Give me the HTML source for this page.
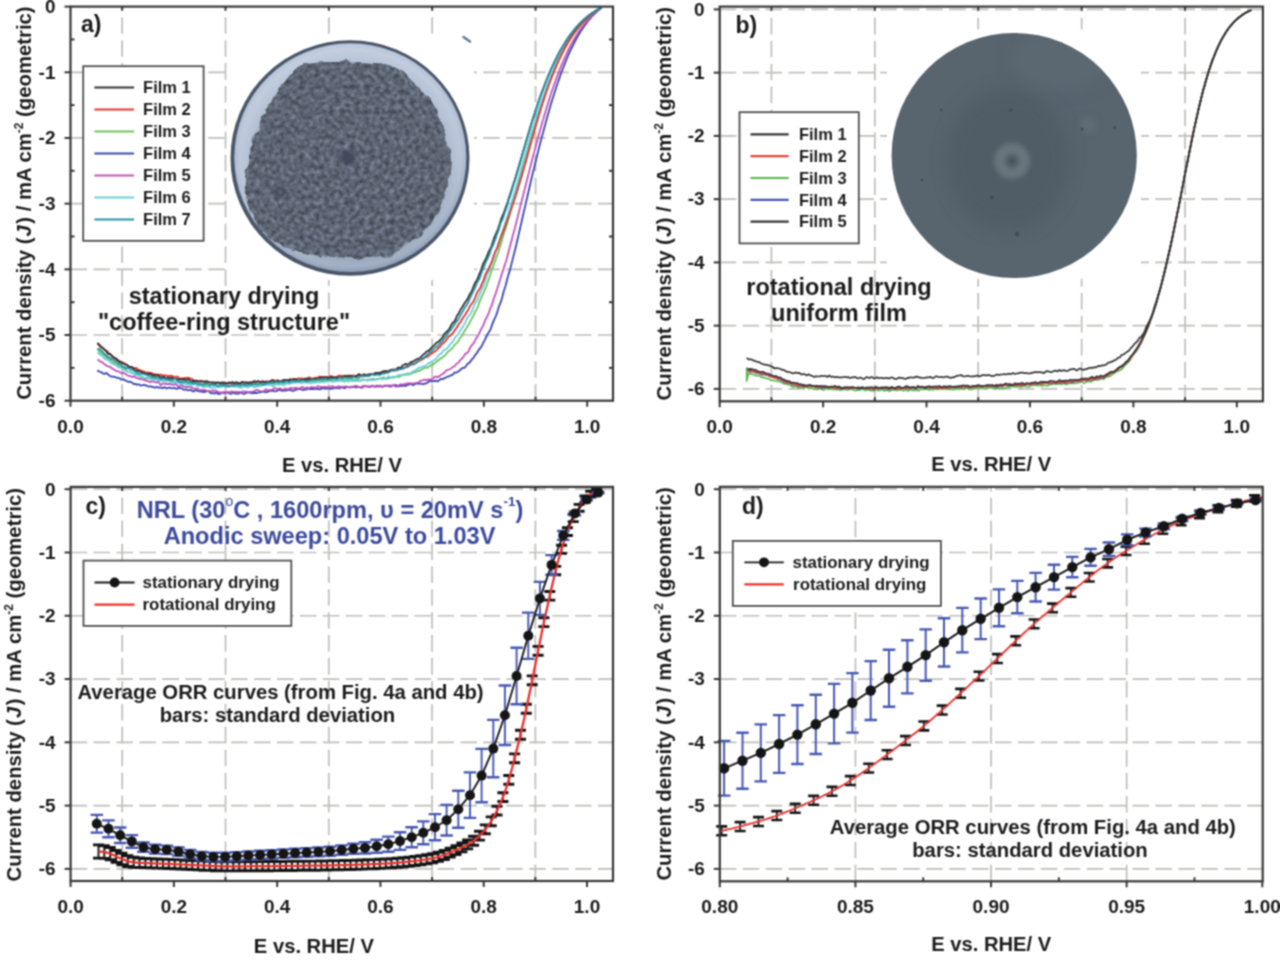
<!DOCTYPE html><html><head><meta charset="utf-8"><style>html,body{margin:0;padding:0;background:#fff;overflow:hidden;width:1280px;height:960px;}svg{display:block;}</style></head><body>
<svg width="1280" height="960" viewBox="0 0 1280 960" font-family='"Liberation Sans", sans-serif'>
<defs>
<filter id="texA" x="-5%" y="-5%" width="110%" height="110%" color-interpolation-filters="sRGB">
 <feTurbulence type="fractalNoise" baseFrequency="0.09" numOctaves="2" seed="3" result="t"/>
 <feDisplacementMap in="SourceGraphic" in2="t" scale="7" xChannelSelector="R" yChannelSelector="G" result="d"/>
 <feTurbulence type="fractalNoise" baseFrequency="0.2" numOctaves="2" seed="7" result="n"/>
 <feColorMatrix in="n" type="matrix" values="0.5 0 0 0 0.25  0.5 0 0 0 0.25  0.5 0 0 0 0.25  0 0 0 0 1" result="g"/>
 <feComposite in="g" in2="d" operator="in" result="gi"/>
 <feBlend in="gi" in2="d" mode="overlay"/>
</filter>
<filter id="blur1" x="-1" y="-1" width="3" height="3"><feGaussianBlur stdDeviation="1.3"/></filter><filter id="blur2" x="-1" y="-1" width="3" height="3"><feGaussianBlur stdDeviation="2"/></filter>
<filter id="blur3" x="-1" y="-1" width="3" height="3"><feGaussianBlur stdDeviation="3.5"/></filter><filter id="blur6" x="-1" y="-1" width="3" height="3"><feGaussianBlur stdDeviation="8"/></filter>
<linearGradient id="bandA" x1="0.3" y1="0" x2="0.5" y2="1">
 <stop offset="0" stop-color="#b4c2d8"/><stop offset="0.6" stop-color="#a8b7cd"/><stop offset="1" stop-color="#8899b2"/>
</linearGradient>
<radialGradient id="bandHi" cx="0.5" cy="0.5" r="0.5">
 <stop offset="0.8" stop-color="#ffffff" stop-opacity="0"/><stop offset="0.95" stop-color="#ffffff" stop-opacity="0.22"/><stop offset="1" stop-color="#ffffff" stop-opacity="0.05"/>
</radialGradient>
<radialGradient id="discB" cx="0.47" cy="0.48" r="0.55">
 <stop offset="0" stop-color="#56626c"/><stop offset="0.6" stop-color="#59656f"/><stop offset="1" stop-color="#5d6973"/>
</radialGradient>
</defs>
<filter id="gblur" x="0" y="0" width="1280" height="960" filterUnits="userSpaceOnUse" color-interpolation-filters="sRGB"><feConvolveMatrix order="3" kernelMatrix="1 2 1 2 4 2 1 2 1" edgeMode="duplicate"/></filter><g filter="url(#gblur)">
<rect width="1280" height="960" fill="#fff"/>
<g stroke="#bebebb" stroke-width="1.7" stroke-dasharray="16.6 6.33"><line x1="122.17" y1="400.7" x2="122.17" y2="6.6"/><line x1="225.51" y1="400.7" x2="225.51" y2="6.6"/><line x1="328.85" y1="400.7" x2="328.85" y2="6.6"/><line x1="432.19" y1="400.7" x2="432.19" y2="6.6"/><line x1="535.53" y1="400.7" x2="535.53" y2="6.6"/><line x1="70.5" y1="72.28" x2="613" y2="72.28"/><line x1="70.5" y1="137.96" x2="613" y2="137.96"/><line x1="70.5" y1="203.64" x2="613" y2="203.64"/><line x1="70.5" y1="269.32" x2="613" y2="269.32"/><line x1="70.5" y1="335" x2="613" y2="335"/></g>
<rect x="227" y="34" width="247" height="246" fill="#fff"/>
<ellipse cx="350" cy="158" rx="119.5" ry="117.8" fill="#4b566a"/>
<ellipse cx="350.3" cy="157.6" rx="116" ry="114.3" fill="url(#bandA)"/>
<ellipse cx="350.3" cy="157.6" rx="116" ry="114.3" fill="url(#bandHi)"/>
<clipPath id="clipBlobA"><path d="M301.3,65.2 C308.5,61.8 319.3,61.7 328.3,61.1 C337.4,60.6 346.4,61.5 355.4,62.0 C364.5,62.4 375.7,62.9 382.5,63.9 C389.3,64.9 391.5,65.4 396.1,67.9 C400.6,70.4 404.6,74.2 409.6,78.8 C414.6,83.3 421.3,89.6 425.9,95.0 C430.4,100.4 433.5,104.9 436.7,111.3 C439.8,117.6 442.8,126.2 444.8,132.9 C446.8,139.7 448.0,145.6 448.9,151.9 C449.8,158.2 450.9,164.1 450.2,170.8 C449.6,177.6 447.1,185.3 444.8,192.5 C442.6,199.7 440.7,207.0 436.7,214.2 C432.6,221.4 426.8,230.4 420.4,235.9 C414.1,241.3 403.3,243.5 398.8,246.7 C394.3,249.8 397.9,253.0 393.3,254.8 C388.8,256.6 380.3,257.1 371.7,257.5 C363.1,258.0 351.4,258.0 341.9,257.5 C332.4,257.1 324.3,256.6 314.8,254.8 C305.3,253.0 293.6,250.7 285.0,246.7 C276.4,242.7 269.5,237.7 263.3,231.0 C257.2,224.3 251.2,214.8 248.2,206.6 C245.1,198.4 244.6,190.3 244.9,181.7 C245.2,173.0 247.6,163.6 249.8,154.6 C252.0,145.6 254.3,136.5 257.9,127.5 C261.5,118.5 266.9,108.1 271.5,100.4 C276.0,92.7 280.0,87.3 285.0,81.5 C290.0,75.6 294.0,68.6 301.3,65.2Z"/></clipPath>
<path d="M301.3,65.2 C308.5,61.8 319.3,61.7 328.3,61.1 C337.4,60.6 346.4,61.5 355.4,62.0 C364.5,62.4 375.7,62.9 382.5,63.9 C389.3,64.9 391.5,65.4 396.1,67.9 C400.6,70.4 404.6,74.2 409.6,78.8 C414.6,83.3 421.3,89.6 425.9,95.0 C430.4,100.4 433.5,104.9 436.7,111.3 C439.8,117.6 442.8,126.2 444.8,132.9 C446.8,139.7 448.0,145.6 448.9,151.9 C449.8,158.2 450.9,164.1 450.2,170.8 C449.6,177.6 447.1,185.3 444.8,192.5 C442.6,199.7 440.7,207.0 436.7,214.2 C432.6,221.4 426.8,230.4 420.4,235.9 C414.1,241.3 403.3,243.5 398.8,246.7 C394.3,249.8 397.9,253.0 393.3,254.8 C388.8,256.6 380.3,257.1 371.7,257.5 C363.1,258.0 351.4,258.0 341.9,257.5 C332.4,257.1 324.3,256.6 314.8,254.8 C305.3,253.0 293.6,250.7 285.0,246.7 C276.4,242.7 269.5,237.7 263.3,231.0 C257.2,224.3 251.2,214.8 248.2,206.6 C245.1,198.4 244.6,190.3 244.9,181.7 C245.2,173.0 247.6,163.6 249.8,154.6 C252.0,145.6 254.3,136.5 257.9,127.5 C261.5,118.5 266.9,108.1 271.5,100.4 C276.0,92.7 280.0,87.3 285.0,81.5 C290.0,75.6 294.0,68.6 301.3,65.2Z" fill="#5f6775" filter="url(#texA)"/>
<g clip-path="url(#clipBlobA)" fill="none" stroke="#454c5c" stroke-width="1.6" opacity="0.35"><circle cx="347.5" cy="157.5" r="11" stroke-dasharray="13 4"/><circle cx="347.5" cy="157.5" r="17" stroke-dasharray="12 5"/><circle cx="347.5" cy="157.5" r="23" stroke-dasharray="11 6"/><circle cx="347.5" cy="157.5" r="29" stroke-dasharray="10 7"/><circle cx="347.5" cy="157.5" r="35" stroke-dasharray="9 3"/><circle cx="347.5" cy="157.5" r="41" stroke-dasharray="15 4"/><circle cx="347.5" cy="157.5" r="47" stroke-dasharray="14 5"/><circle cx="347.5" cy="157.5" r="53" stroke-dasharray="13 6"/><circle cx="347.5" cy="157.5" r="59" stroke-dasharray="12 7"/><circle cx="347.5" cy="157.5" r="65" stroke-dasharray="11 3"/><circle cx="347.5" cy="157.5" r="71" stroke-dasharray="10 4"/><circle cx="347.5" cy="157.5" r="77" stroke-dasharray="9 5"/><circle cx="347.5" cy="157.5" r="83" stroke-dasharray="15 6"/><circle cx="347.5" cy="157.5" r="89" stroke-dasharray="14 7"/><circle cx="347.5" cy="157.5" r="95" stroke-dasharray="13 3"/></g>
<circle cx="347.5" cy="157.5" r="4.5" fill="none" stroke="#3a4254" stroke-width="5" filter="url(#blur2)"/>
<circle cx="280" cy="192" r="4" fill="none" stroke="#474e60" stroke-width="3.5" filter="url(#blur1)"/>
<path d="M463.5,37 L470,41.5" stroke="#5b7a9c" stroke-width="2.5" stroke-linecap="round"/>
<polyline points="97.4,370.0 98.4,371.2 99.4,371.6 100.4,371.8 101.4,372.3 102.4,373.0 103.4,373.7 104.4,373.9 105.5,373.4 106.5,372.9 107.5,373.8 108.5,375.0 109.5,375.6 110.5,376.2 111.5,376.7 112.5,376.7 113.5,376.7 114.5,377.0 115.6,377.2 116.6,377.7 117.6,377.9 118.6,377.8 119.6,378.4 120.6,379.3 121.6,379.6 122.6,379.2 123.6,379.3 124.7,380.2 125.7,380.7 126.7,380.9 127.7,381.6 128.7,381.8 129.7,381.6 130.7,381.9 131.7,382.3 132.7,383.2 133.8,384.0 134.8,383.8 135.8,384.2 136.8,384.8 137.8,384.4 138.8,384.3 139.8,385.0 140.8,385.5 141.8,385.4 142.8,385.2 143.9,384.9 144.9,385.2 145.9,385.5 146.9,385.7 147.9,386.3 148.9,386.6 149.9,386.3 150.9,386.2 151.9,386.8 153.0,387.0 154.0,387.4 155.0,387.7 156.0,387.1 157.0,387.0 158.0,387.7 159.0,387.7 160.0,387.5 161.0,387.6 162.0,388.2 163.1,388.1 164.1,387.2 165.1,387.4 166.1,388.4 167.1,388.3 168.1,387.9 169.1,387.7 170.1,387.6 171.1,388.1 172.2,388.4 173.2,388.2 174.2,387.9 175.2,388.1 176.2,388.9 177.2,388.9 178.2,388.1 179.2,388.0 180.2,388.2 181.2,388.3 182.3,388.8 183.3,389.5 184.3,389.9 185.3,389.7 186.3,389.5 187.3,390.1 188.3,390.4 189.3,390.2 190.3,390.0 191.4,390.2 192.4,391.1 193.4,391.5 194.4,390.8 195.4,390.2 196.4,390.4 197.4,390.9 198.4,391.2 199.4,391.3 200.5,391.4 201.5,391.5 202.5,391.9 203.5,392.0 204.5,391.9 205.5,391.9 206.5,391.5 207.5,391.0 208.5,391.1 209.5,392.1 210.6,393.2 211.6,393.4 212.6,393.0 213.6,393.3 214.6,393.6 215.6,392.9 216.6,392.8 217.6,393.7 218.6,394.1 219.7,393.8 220.7,393.4 221.7,392.7 222.7,392.5 223.7,393.0 224.7,393.2 225.7,392.9 226.7,392.6 227.7,392.5 228.7,393.0 229.8,393.6 230.8,393.9 231.8,393.5 232.8,392.8 233.8,392.9 234.8,393.4 235.8,393.5 236.8,393.3 237.8,393.6 238.9,393.7 239.9,392.7 240.9,392.2 241.9,392.9 242.9,393.6 243.9,393.9 244.9,393.7 245.9,392.9 246.9,392.5 248.0,392.7 249.0,392.7 250.0,392.7 251.0,393.0 252.0,393.4 253.0,393.1 254.0,392.8 255.0,393.0 256.0,393.0 257.0,393.0 258.1,392.5 259.1,392.2 260.1,392.3 261.1,392.2 262.1,391.8 263.1,391.4 264.1,391.7 265.1,392.3 266.1,392.1 267.2,391.9 268.2,391.7 269.2,391.2 270.2,390.9 271.2,390.9 272.2,390.9 273.2,390.8 274.2,391.2 275.2,391.3 276.2,391.1 277.3,390.8 278.3,390.2 279.3,389.8 280.3,389.9 281.3,390.6 282.3,390.9 283.3,390.6 284.3,390.5 285.3,390.6 286.4,390.5 287.4,390.1 288.4,389.9 289.4,390.1 290.4,390.1 291.4,390.4 292.4,390.8 293.4,390.7 294.4,390.6 295.4,389.9 296.5,389.4 297.5,389.4 298.5,389.1 299.5,388.8 300.5,389.1 301.5,389.4 302.5,389.8 303.5,389.9 304.5,389.7 305.6,389.7 306.6,389.3 307.6,388.8 308.6,388.6 309.6,389.0 310.6,389.2 311.6,389.0 312.6,389.0 313.6,389.0 314.7,388.8 315.7,388.8 316.7,388.9 317.7,389.0 318.7,389.2 319.7,389.4 320.7,389.2 321.7,388.7 322.7,387.9 323.7,388.0 324.8,388.8 325.8,388.6 326.8,388.5 327.8,388.5 328.8,388.2 329.8,388.6 330.8,388.9 331.8,388.6 332.8,388.1 333.9,388.2 334.9,388.3 335.9,387.8 336.9,387.7 337.9,388.3 338.9,388.4 339.9,388.1 340.9,387.7 341.9,387.1 342.9,387.5 344.0,388.2 345.0,388.2 346.0,387.4 347.0,386.7 348.0,387.2 349.0,387.4 350.0,387.3 351.0,386.9 352.0,386.7 353.1,387.0 354.1,387.2 355.1,387.0 356.1,387.3 357.1,387.3 358.1,386.8 359.1,386.9 360.1,387.4 361.1,387.6 362.2,387.5 363.2,386.8 364.2,386.4 365.2,386.3 366.2,386.2 367.2,386.4 368.2,386.6 369.2,386.4 370.2,386.4 371.2,386.6 372.3,386.2 373.3,386.0 374.3,386.4 375.3,386.6 376.3,386.0 377.3,385.7 378.3,386.2 379.3,386.6 380.3,386.3 381.4,386.3 382.4,386.7 383.4,386.3 384.4,385.9 385.4,386.0 386.4,385.6 387.4,385.7 388.4,386.1 389.4,386.3 390.4,386.6 391.5,386.1 392.5,385.4 393.5,385.4 394.5,385.2 395.5,385.2 396.5,385.2 397.5,385.8 398.5,386.5 399.5,386.1 400.6,385.6 401.6,386.0 402.6,385.9 403.6,385.4 404.6,385.6 405.6,386.0 406.6,385.4 407.6,384.8 408.6,384.6 409.6,384.1 410.7,383.8 411.7,384.4 412.7,385.1 413.7,385.1 414.7,384.3 415.7,383.7 416.7,383.6 417.7,383.7 418.7,383.8 419.8,383.7 420.8,383.7 421.8,383.8 422.8,384.1 423.8,384.0 424.8,383.6 425.8,383.5 426.8,383.1 427.8,382.4 428.9,381.6 429.9,380.8 430.9,381.1 431.9,381.6 432.9,381.2 433.9,381.1 434.9,381.0 435.9,380.6 436.9,381.2 437.9,381.4 439.0,380.4 440.0,379.4 441.0,379.0 442.0,379.2 443.0,379.0 444.0,378.2 445.0,378.1 446.0,377.4 447.0,376.6 448.1,376.5 449.1,376.3 450.1,375.7 451.1,375.2 452.1,375.0 453.1,374.2 454.1,373.1 455.1,372.3 456.1,372.6 457.1,372.4 458.2,371.4 459.2,370.7 460.2,370.0 461.2,369.0 462.2,368.2 463.2,367.9 464.2,367.6 465.2,367.3 466.2,365.8 467.3,364.0 468.3,363.4 469.3,362.9 470.3,361.7 471.3,360.1 472.3,359.0 473.3,358.1 474.3,356.4 475.3,354.9 476.4,353.7 477.4,352.3 478.4,350.4 479.4,349.0 480.4,348.0 481.4,346.6 482.4,344.7 483.4,342.7 484.4,340.8 485.4,338.7 486.5,336.5 487.5,334.4 488.5,332.6 489.5,331.2 490.5,329.4 491.5,326.5 492.5,323.6 493.5,321.2 494.5,318.9 495.6,316.5 496.6,314.1 497.6,311.1 498.6,307.6 499.6,304.8 500.6,302.4 501.6,299.5 502.6,295.7 503.6,291.8 504.6,288.7 505.7,285.5 506.7,281.3 507.7,277.3 508.7,273.9 509.7,270.9 510.7,267.0 511.7,263.1 512.7,259.1 513.7,255.1 514.8,250.9 515.8,246.8 516.8,242.5 517.8,238.2 518.8,233.9 519.8,229.5 520.8,225.2 521.8,220.7 522.8,216.3 523.8,211.9 524.9,207.4 525.9,203.0 526.9,198.6 527.9,194.2 528.9,189.8 529.9,185.5 530.9,181.1 531.9,176.8 532.9,172.6 534.0,168.4 535.0,164.2 536.0,160.1 537.0,156.0 538.0,151.9 539.0,147.9 540.0,144.0 541.0,140.1 542.0,136.2 543.1,132.4 544.1,128.6 545.1,124.9 546.1,121.2 547.1,117.6 548.1,114.0 549.1,110.5 550.1,107.1 551.1,103.6 552.1,100.3 553.2,97.0 554.2,93.8 555.2,90.6 556.2,87.5 557.2,84.5 558.2,81.5 559.2,78.6 560.2,75.7 561.2,72.9 562.3,70.2 563.3,67.5 564.3,64.9 565.3,62.4 566.3,59.9 567.3,57.5 568.3,55.2 569.3,52.9 570.3,50.7 571.3,48.6 572.4,46.5 573.4,44.4 574.4,42.5 575.4,40.5 576.4,38.7 577.4,36.9 578.4,35.2 579.4,33.5 580.4,31.8 581.5,30.2 582.5,28.7 583.5,27.2 584.5,25.8 585.5,24.4 586.5,23.1 587.5,21.8 588.5,20.5 589.5,19.3 590.6,18.1 591.6,17.0 592.6,15.9 593.6,14.9 594.6,13.9 595.6,12.9 596.6,12.0 597.6,11.1 598.6,10.2 599.6,9.3 600.7,8.5 601.7,7.7" fill="none" stroke="#3b46b0" stroke-width="1.8" stroke-linejoin="round" />
<polyline points="97.4,359.6 98.4,359.9 99.4,360.8 100.4,361.6 101.4,361.9 102.4,362.4 103.4,363.4 104.4,364.3 105.5,364.9 106.5,365.6 107.5,366.1 108.5,366.5 109.5,366.7 110.5,367.0 111.5,368.0 112.5,368.9 113.5,369.2 114.5,369.8 115.6,370.7 116.6,371.2 117.6,371.2 118.6,371.4 119.6,372.1 120.6,372.9 121.6,373.2 122.6,373.0 123.6,372.9 124.7,373.6 125.7,374.2 126.7,374.8 127.7,375.5 128.7,375.9 129.7,376.0 130.7,376.2 131.7,376.7 132.7,377.1 133.8,376.7 134.8,376.7 135.8,377.5 136.8,378.0 137.8,378.1 138.8,378.7 139.8,379.1 140.8,379.0 141.8,379.2 142.8,379.4 143.9,379.9 144.9,380.5 145.9,380.5 146.9,380.6 147.9,381.2 148.9,381.6 149.9,382.0 150.9,382.1 151.9,381.4 153.0,381.4 154.0,381.7 155.0,382.0 156.0,382.6 157.0,382.4 158.0,381.8 159.0,382.6 160.0,384.3 161.0,385.1 162.0,384.1 163.1,383.3 164.1,383.6 165.1,383.8 166.1,383.8 167.1,384.2 168.1,384.0 169.1,383.8 170.1,384.0 171.1,384.4 172.2,384.7 173.2,384.8 174.2,384.8 175.2,384.2 176.2,384.2 177.2,385.6 178.2,386.7 179.2,386.3 180.2,385.7 181.2,385.4 182.3,385.8 183.3,386.7 184.3,386.9 185.3,386.7 186.3,387.0 187.3,387.0 188.3,387.1 189.3,387.2 190.3,387.2 191.4,387.4 192.4,387.9 193.4,388.5 194.4,388.6 195.4,388.6 196.4,388.5 197.4,388.6 198.4,389.3 199.4,389.9 200.5,390.1 201.5,389.9 202.5,389.9 203.5,390.1 204.5,389.9 205.5,390.1 206.5,390.9 207.5,391.2 208.5,390.9 209.5,391.0 210.6,391.5 211.6,390.8 212.6,390.4 213.6,390.9 214.6,390.8 215.6,390.4 216.6,391.0 217.6,392.0 218.6,392.1 219.7,392.1 220.7,392.6 221.7,392.9 222.7,392.4 223.7,392.2 224.7,392.2 225.7,392.0 226.7,391.9 227.7,392.2 228.7,392.4 229.8,391.8 230.8,391.5 231.8,391.7 232.8,391.5 233.8,391.8 234.8,391.9 235.8,391.7 236.8,391.8 237.8,391.8 238.9,391.8 239.9,392.0 240.9,392.4 241.9,392.1 242.9,391.4 243.9,391.4 244.9,391.7 245.9,391.7 246.9,391.7 248.0,392.2 249.0,392.2 250.0,391.8 251.0,391.8 252.0,391.7 253.0,391.4 254.0,391.3 255.0,390.9 256.0,390.2 257.0,390.0 258.1,390.2 259.1,390.7 260.1,391.3 261.1,391.4 262.1,391.5 263.1,391.6 264.1,391.0 265.1,389.9 266.1,389.4 267.2,389.7 268.2,390.2 269.2,390.2 270.2,390.1 271.2,389.8 272.2,389.6 273.2,389.0 274.2,388.4 275.2,388.3 276.2,388.4 277.3,389.0 278.3,389.2 279.3,388.5 280.3,388.4 281.3,389.0 282.3,389.5 283.3,389.6 284.3,389.1 285.3,388.6 286.4,388.8 287.4,389.2 288.4,389.2 289.4,388.5 290.4,388.0 291.4,388.0 292.4,388.4 293.4,388.4 294.4,387.8 295.4,387.8 296.5,388.0 297.5,388.2 298.5,388.7 299.5,388.4 300.5,387.8 301.5,387.4 302.5,387.0 303.5,387.5 304.5,388.3 305.6,388.0 306.6,387.4 307.6,387.6 308.6,388.2 309.6,388.1 310.6,387.3 311.6,387.0 312.6,387.4 313.6,387.5 314.7,387.3 315.7,387.9 316.7,387.3 317.7,386.2 318.7,386.5 319.7,387.1 320.7,387.0 321.7,386.8 322.7,387.0 323.7,386.9 324.8,386.9 325.8,387.0 326.8,386.9 327.8,387.3 328.8,387.3 329.8,387.0 330.8,386.8 331.8,386.4 332.8,386.3 333.9,386.8 334.9,387.1 335.9,387.1 336.9,386.8 337.9,386.5 338.9,386.5 339.9,386.6 340.9,386.8 341.9,386.8 342.9,386.7 344.0,386.9 345.0,386.6 346.0,386.3 347.0,386.8 348.0,387.2 349.0,387.4 350.0,387.4 351.0,387.4 352.0,387.1 353.1,386.8 354.1,386.3 355.1,385.9 356.1,386.0 357.1,386.2 358.1,386.5 359.1,386.8 360.1,387.2 361.1,387.4 362.2,386.5 363.2,385.7 364.2,386.1 365.2,386.2 366.2,386.0 367.2,386.4 368.2,387.0 369.2,387.2 370.2,387.0 371.2,386.2 372.3,385.6 373.3,386.2 374.3,386.8 375.3,386.7 376.3,386.7 377.3,386.8 378.3,386.3 379.3,385.7 380.3,385.7 381.4,386.0 382.4,386.7 383.4,386.6 384.4,385.5 385.4,385.4 386.4,386.1 387.4,385.9 388.4,385.5 389.4,385.4 390.4,385.5 391.5,385.6 392.5,385.4 393.5,385.3 394.5,385.6 395.5,386.5 396.5,386.8 397.5,386.3 398.5,385.7 399.5,384.9 400.6,384.4 401.6,384.5 402.6,384.6 403.6,384.3 404.6,384.0 405.6,384.1 406.6,383.7 407.6,383.4 408.6,383.3 409.6,383.2 410.7,383.3 411.7,383.3 412.7,383.5 413.7,383.7 414.7,383.3 415.7,382.9 416.7,382.8 417.7,382.7 418.7,382.3 419.8,381.3 420.8,380.6 421.8,380.6 422.8,380.3 423.8,379.9 424.8,379.6 425.8,380.2 426.8,380.3 427.8,379.5 428.9,379.4 429.9,379.7 430.9,379.5 431.9,379.2 432.9,378.6 433.9,377.8 434.9,376.7 435.9,376.6 436.9,377.2 437.9,377.0 439.0,376.4 440.0,375.9 441.0,374.9 442.0,374.1 443.0,373.8 444.0,373.1 445.0,371.9 446.0,370.7 447.0,370.1 448.1,369.9 449.1,369.5 450.1,369.0 451.1,368.4 452.1,367.6 453.1,366.8 454.1,366.4 455.1,365.6 456.1,364.2 457.1,363.3 458.2,362.8 459.2,361.7 460.2,360.2 461.2,359.2 462.2,358.4 463.2,357.1 464.2,355.6 465.2,354.0 466.2,353.1 467.3,352.9 468.3,351.8 469.3,349.5 470.3,347.4 471.3,345.9 472.3,344.6 473.3,343.6 474.3,342.1 475.3,339.9 476.4,337.9 477.4,336.4 478.4,335.0 479.4,333.0 480.4,330.8 481.4,328.7 482.4,326.9 483.4,325.0 484.4,322.4 485.4,319.7 486.5,317.7 487.5,315.9 488.5,313.7 489.5,310.8 490.5,307.9 491.5,305.9 492.5,303.1 493.5,299.5 494.5,296.4 495.6,293.8 496.6,290.7 497.6,287.5 498.6,284.5 499.6,281.4 500.6,278.0 501.6,274.8 502.6,271.7 503.6,268.7 504.6,265.4 505.7,262.5 506.7,259.0 507.7,255.0 508.7,251.2 509.7,247.4 510.7,243.7 511.7,239.9 512.7,236.1 513.7,232.3 514.8,228.4 515.8,224.5 516.8,220.5 517.8,216.6 518.8,212.6 519.8,208.6 520.8,204.6 521.8,200.6 522.8,196.6 523.8,192.6 524.9,188.5 525.9,184.5 526.9,180.5 527.9,176.5 528.9,172.6 529.9,168.6 530.9,164.7 531.9,160.7 532.9,156.8 534.0,153.0 535.0,149.1 536.0,145.3 537.0,141.6 538.0,137.8 539.0,134.2 540.0,130.5 541.0,126.9 542.0,123.3 543.1,119.8 544.1,116.3 545.1,112.9 546.1,109.6 547.1,106.2 548.1,103.0 549.1,99.8 550.1,96.6 551.1,93.5 552.1,90.5 553.2,87.5 554.2,84.6 555.2,81.7 556.2,78.9 557.2,76.2 558.2,73.5 559.2,70.9 560.2,68.3 561.2,65.8 562.3,63.4 563.3,61.0 564.3,58.7 565.3,56.5 566.3,54.3 567.3,52.1 568.3,50.0 569.3,48.0 570.3,46.0 571.3,44.1 572.4,42.3 573.4,40.5 574.4,38.7 575.4,37.0 576.4,35.4 577.4,33.8 578.4,32.2 579.4,30.7 580.4,29.3 581.5,27.8 582.5,26.5 583.5,25.2 584.5,23.9 585.5,22.6 586.5,21.4 587.5,20.3 588.5,19.2 589.5,18.1 590.6,17.0 591.6,16.0 592.6,15.0 593.6,14.1 594.6,13.2 595.6,12.3 596.6,11.5 597.6,10.6 598.6,9.8 599.6,9.1 600.7,8.3 601.7,7.6" fill="none" stroke="#c052b8" stroke-width="1.8" stroke-linejoin="round" />
<polyline points="97.4,349.3 98.4,350.1 99.4,351.3 100.4,352.9 101.4,353.6 102.4,353.5 103.4,354.2 104.4,355.6 105.5,356.5 106.5,357.3 107.5,358.4 108.5,359.0 109.5,359.3 110.5,359.7 111.5,360.4 112.5,361.6 113.5,362.6 114.5,363.2 115.6,364.3 116.6,364.9 117.6,365.0 118.6,365.7 119.6,366.3 120.6,366.9 121.6,367.7 122.6,367.9 123.6,368.3 124.7,369.0 125.7,369.7 126.7,370.8 127.7,371.8 128.7,371.9 129.7,371.9 130.7,372.0 131.7,372.5 132.7,373.3 133.8,373.4 134.8,373.3 135.8,373.7 136.8,374.4 137.8,375.1 138.8,375.7 139.8,376.0 140.8,376.2 141.8,376.6 142.8,377.2 143.9,378.0 144.9,378.8 145.9,379.0 146.9,378.4 147.9,377.6 148.9,378.0 149.9,379.2 150.9,379.5 151.9,378.9 153.0,379.1 154.0,379.6 155.0,379.3 156.0,379.1 157.0,379.2 158.0,379.4 159.0,379.6 160.0,380.1 161.0,380.7 162.0,380.8 163.1,380.7 164.1,380.6 165.1,381.3 166.1,381.5 167.1,380.8 168.1,380.2 169.1,380.1 170.1,380.8 171.1,381.9 172.2,382.1 173.2,381.9 174.2,382.2 175.2,382.6 176.2,382.2 177.2,382.0 178.2,382.4 179.2,382.1 180.2,381.8 181.2,381.9 182.3,381.9 183.3,381.9 184.3,382.3 185.3,382.6 186.3,382.7 187.3,382.7 188.3,383.2 189.3,383.4 190.3,383.3 191.4,383.5 192.4,383.3 193.4,383.1 194.4,383.5 195.4,383.6 196.4,383.4 197.4,383.8 198.4,384.8 199.4,384.8 200.5,383.9 201.5,384.4 202.5,385.5 203.5,385.5 204.5,385.1 205.5,385.0 206.5,384.8 207.5,384.6 208.5,384.9 209.5,385.2 210.6,384.7 211.6,384.4 212.6,384.8 213.6,384.7 214.6,384.5 215.6,384.9 216.6,385.5 217.6,386.0 218.6,385.9 219.7,385.1 220.7,384.7 221.7,384.6 222.7,384.7 223.7,385.1 224.7,385.8 225.7,386.1 226.7,385.6 227.7,385.3 228.7,385.7 229.8,386.2 230.8,386.3 231.8,386.1 232.8,385.9 233.8,385.9 234.8,385.6 235.8,385.3 236.8,385.0 237.8,385.0 238.9,385.9 239.9,386.2 240.9,385.0 241.9,384.2 242.9,384.3 243.9,384.6 244.9,384.8 245.9,385.2 246.9,385.6 248.0,385.4 249.0,385.0 250.0,384.6 251.0,384.5 252.0,385.1 253.0,385.0 254.0,384.4 255.0,384.9 256.0,385.4 257.0,385.4 258.1,384.7 259.1,383.8 260.1,383.8 261.1,384.1 262.1,384.1 263.1,383.9 264.1,384.0 265.1,384.4 266.1,384.2 267.2,383.6 268.2,383.3 269.2,383.4 270.2,383.1 271.2,382.9 272.2,383.7 273.2,383.9 274.2,383.2 275.2,383.0 276.2,383.1 277.3,383.2 278.3,383.1 279.3,383.0 280.3,382.8 281.3,382.9 282.3,383.3 283.3,383.3 284.3,382.9 285.3,382.6 286.4,382.4 287.4,382.5 288.4,382.6 289.4,382.5 290.4,382.7 291.4,383.1 292.4,383.0 293.4,382.7 294.4,382.3 295.4,381.8 296.5,381.4 297.5,381.1 298.5,380.7 299.5,380.9 300.5,381.1 301.5,380.7 302.5,380.8 303.5,381.3 304.5,381.1 305.6,380.8 306.6,380.8 307.6,380.7 308.6,380.7 309.6,380.8 310.6,381.0 311.6,381.0 312.6,380.9 313.6,381.1 314.7,381.4 315.7,380.8 316.7,380.2 317.7,380.3 318.7,380.5 319.7,380.7 320.7,381.1 321.7,381.2 322.7,381.0 323.7,380.5 324.8,380.4 325.8,380.5 326.8,380.6 327.8,381.1 328.8,381.1 329.8,380.4 330.8,380.1 331.8,380.9 332.8,381.3 333.9,380.7 334.9,380.5 335.9,381.0 336.9,381.1 337.9,380.8 338.9,380.3 339.9,380.3 340.9,380.3 341.9,379.7 342.9,379.9 344.0,380.3 345.0,380.0 346.0,379.6 347.0,379.0 348.0,379.3 349.0,380.1 350.0,380.4 351.0,380.4 352.0,380.2 353.1,380.0 354.1,379.8 355.1,379.5 356.1,379.7 357.1,379.8 358.1,380.0 359.1,380.7 360.1,380.5 361.1,379.8 362.2,379.7 363.2,379.7 364.2,379.7 365.2,379.9 366.2,380.1 367.2,380.5 368.2,380.3 369.2,379.5 370.2,379.7 371.2,379.6 372.3,378.7 373.3,378.7 374.3,379.3 375.3,379.5 376.3,379.4 377.3,379.3 378.3,378.9 379.3,378.6 380.3,378.5 381.4,378.2 382.4,377.8 383.4,377.3 384.4,377.8 385.4,378.5 386.4,378.4 387.4,378.6 388.4,378.6 389.4,378.0 390.4,377.9 391.5,377.6 392.5,377.2 393.5,377.5 394.5,377.6 395.5,376.8 396.5,376.2 397.5,376.5 398.5,377.1 399.5,376.9 400.6,375.9 401.6,375.0 402.6,374.8 403.6,374.8 404.6,374.7 405.6,374.9 406.6,374.6 407.6,374.5 408.6,374.6 409.6,374.1 410.7,373.8 411.7,373.6 412.7,372.9 413.7,372.2 414.7,372.2 415.7,372.3 416.7,371.7 417.7,370.8 418.7,370.7 419.8,370.9 420.8,370.1 421.8,369.3 422.8,369.2 423.8,368.4 424.8,367.5 425.8,367.6 426.8,367.9 427.8,367.7 428.9,366.7 429.9,365.6 430.9,365.4 431.9,365.5 432.9,364.8 433.9,363.6 434.9,362.8 435.9,362.3 436.9,361.5 437.9,360.8 439.0,360.0 440.0,359.0 441.0,358.3 442.0,357.8 443.0,356.9 444.0,356.1 445.0,355.5 446.0,354.3 447.0,352.8 448.1,351.7 449.1,351.1 450.1,350.2 451.1,349.2 452.1,348.3 453.1,347.0 454.1,345.5 455.1,344.4 456.1,343.6 457.1,342.6 458.2,341.3 459.2,339.4 460.2,337.8 461.2,336.6 462.2,335.2 463.2,333.5 464.2,331.4 465.2,329.9 466.2,328.6 467.3,326.7 468.3,325.1 469.3,323.5 470.3,321.4 471.3,319.6 472.3,317.9 473.3,315.9 474.3,313.6 475.3,311.5 476.4,309.6 477.4,307.7 478.4,305.3 479.4,302.4 480.4,299.8 481.4,297.5 482.4,295.1 483.4,293.1 484.4,290.9 485.4,288.2 486.5,285.6 487.5,282.6 488.5,279.7 489.5,277.3 490.5,274.2 491.5,270.7 492.5,268.2 493.5,265.6 494.5,262.6 495.6,259.8 496.6,256.8 497.6,254.1 498.6,251.2 499.6,247.6 500.6,244.6 501.6,241.5 502.6,237.7 503.6,234.5 504.6,231.5 505.7,228.1 506.7,224.9 507.7,221.7 508.7,218.3 509.7,214.0 510.7,210.5 511.7,207.0 512.7,203.4 513.7,199.9 514.8,196.3 515.8,192.7 516.8,189.1 517.8,185.5 518.8,181.9 519.8,178.3 520.8,174.7 521.8,171.0 522.8,167.4 523.8,163.8 524.9,160.2 525.9,156.6 526.9,153.0 527.9,149.5 528.9,145.9 529.9,142.4 530.9,138.9 531.9,135.5 532.9,132.1 534.0,128.7 535.0,125.3 536.0,122.0 537.0,118.8 538.0,115.5 539.0,112.4 540.0,109.2 541.0,106.1 542.0,103.1 543.1,100.1 544.1,97.2 545.1,94.3 546.1,91.4 547.1,88.7 548.1,85.9 549.1,83.2 550.1,80.6 551.1,78.0 552.1,75.5 553.2,73.1 554.2,70.6 555.2,68.3 556.2,66.0 557.2,63.7 558.2,61.5 559.2,59.4 560.2,57.3 561.2,55.3 562.3,53.3 563.3,51.3 564.3,49.4 565.3,47.6 566.3,45.8 567.3,44.1 568.3,42.4 569.3,40.7 570.3,39.1 571.3,37.5 572.4,36.0 573.4,34.6 574.4,33.1 575.4,31.7 576.4,30.4 577.4,29.1 578.4,27.8 579.4,26.6 580.4,25.4 581.5,24.2 582.5,23.1 583.5,22.0 584.5,21.0 585.5,20.0 586.5,19.0 587.5,18.0 588.5,17.1 589.5,16.2 590.6,15.3 591.6,14.5 592.6,13.7 593.6,12.9 594.6,12.1 595.6,11.4 596.6,10.7 597.6,10.0 598.6,9.3 599.6,8.7 600.7,8.1 601.7,7.5" fill="none" stroke="#6cc35a" stroke-width="1.8" stroke-linejoin="round" />
<polyline points="97.4,352.7 98.4,353.4 99.4,353.8 100.4,354.8 101.4,355.7 102.4,355.9 103.4,357.2 104.4,358.9 105.5,359.3 106.5,359.1 107.5,359.9 108.5,360.7 109.5,361.3 110.5,362.4 111.5,363.3 112.5,363.7 113.5,364.2 114.5,364.5 115.6,365.1 116.6,365.7 117.6,366.4 118.6,367.4 119.6,367.7 120.6,367.7 121.6,368.3 122.6,369.0 123.6,369.8 124.7,370.5 125.7,370.8 126.7,371.2 127.7,371.7 128.7,372.0 129.7,372.0 130.7,372.2 131.7,372.9 132.7,373.2 133.8,373.8 134.8,375.0 135.8,375.3 136.8,374.6 137.8,374.6 138.8,375.5 139.8,376.2 140.8,377.0 141.8,377.4 142.8,377.5 143.9,377.7 144.9,377.7 145.9,377.9 146.9,377.7 147.9,377.1 148.9,377.4 149.9,378.2 150.9,378.8 151.9,379.4 153.0,379.7 154.0,379.2 155.0,379.1 156.0,379.7 157.0,379.9 158.0,380.2 159.0,380.8 160.0,380.5 161.0,380.1 162.0,380.4 163.1,380.5 164.1,380.7 165.1,381.0 166.1,380.7 167.1,380.3 168.1,380.4 169.1,380.9 170.1,381.8 171.1,382.4 172.2,382.7 173.2,382.8 174.2,382.6 175.2,381.9 176.2,381.9 177.2,382.5 178.2,382.9 179.2,383.4 180.2,383.7 181.2,384.0 182.3,384.2 183.3,383.8 184.3,383.7 185.3,384.0 186.3,384.4 187.3,384.6 188.3,384.6 189.3,384.6 190.3,384.8 191.4,385.0 192.4,384.8 193.4,384.4 194.4,384.2 195.4,384.5 196.4,385.1 197.4,386.0 198.4,386.4 199.4,385.8 200.5,384.9 201.5,385.5 202.5,386.9 203.5,387.0 204.5,386.7 205.5,386.8 206.5,386.6 207.5,386.6 208.5,386.9 209.5,387.2 210.6,387.7 211.6,387.8 212.6,387.4 213.6,387.2 214.6,387.7 215.6,387.5 216.6,387.0 217.6,387.0 218.6,387.2 219.7,387.4 220.7,387.2 221.7,386.6 222.7,386.3 223.7,386.5 224.7,386.8 225.7,387.2 226.7,387.2 227.7,386.8 228.7,386.7 229.8,386.7 230.8,386.5 231.8,386.0 232.8,386.2 233.8,386.9 234.8,386.7 235.8,386.7 236.8,387.1 237.8,387.1 238.9,387.2 239.9,387.7 240.9,387.8 241.9,387.5 242.9,386.9 243.9,386.5 244.9,386.4 245.9,386.8 246.9,387.4 248.0,387.6 249.0,386.9 250.0,386.5 251.0,386.2 252.0,386.0 253.0,386.4 254.0,387.1 255.0,387.3 256.0,386.6 257.0,386.3 258.1,386.4 259.1,386.3 260.1,386.5 261.1,386.0 262.1,385.1 263.1,385.0 264.1,385.1 265.1,385.1 266.1,385.2 267.2,384.9 268.2,384.6 269.2,384.8 270.2,385.1 271.2,385.2 272.2,385.8 273.2,386.5 274.2,385.9 275.2,384.4 276.2,384.0 277.3,384.6 278.3,384.7 279.3,384.6 280.3,384.4 281.3,384.1 282.3,384.6 283.3,385.3 284.3,385.1 285.3,384.0 286.4,383.4 287.4,383.5 288.4,383.9 289.4,383.8 290.4,383.6 291.4,383.1 292.4,382.2 293.4,381.9 294.4,382.5 295.4,383.0 296.5,382.7 297.5,382.4 298.5,382.5 299.5,382.6 300.5,382.8 301.5,383.1 302.5,382.6 303.5,382.3 304.5,382.7 305.6,382.6 306.6,382.5 307.6,382.9 308.6,383.1 309.6,383.2 310.6,383.2 311.6,383.1 312.6,382.9 313.6,382.6 314.7,382.3 315.7,382.6 316.7,382.7 317.7,381.8 318.7,381.9 319.7,382.5 320.7,382.2 321.7,382.0 322.7,382.1 323.7,382.1 324.8,381.8 325.8,381.6 326.8,381.7 327.8,381.5 328.8,381.3 329.8,381.3 330.8,381.0 331.8,381.4 332.8,381.8 333.9,381.5 334.9,381.3 335.9,381.3 336.9,380.8 337.9,380.3 338.9,380.6 339.9,381.1 340.9,381.0 341.9,380.7 342.9,381.1 344.0,381.7 345.0,381.6 346.0,380.9 347.0,380.9 348.0,381.6 349.0,381.4 350.0,380.6 351.0,380.6 352.0,381.2 353.1,381.0 354.1,380.6 355.1,380.8 356.1,381.0 357.1,381.1 358.1,381.2 359.1,380.7 360.1,380.6 361.1,380.8 362.2,380.3 363.2,379.8 364.2,379.7 365.2,379.8 366.2,379.8 367.2,379.7 368.2,379.6 369.2,379.3 370.2,379.7 371.2,380.2 372.3,380.2 373.3,379.9 374.3,379.8 375.3,379.7 376.3,379.3 377.3,378.7 378.3,378.6 379.3,378.6 380.3,378.5 381.4,379.0 382.4,379.3 383.4,378.9 384.4,378.5 385.4,378.8 386.4,378.5 387.4,377.2 388.4,376.4 389.4,376.9 390.4,377.6 391.5,377.2 392.5,376.6 393.5,376.8 394.5,377.2 395.5,377.1 396.5,377.1 397.5,376.3 398.5,374.9 399.5,375.0 400.6,375.9 401.6,375.7 402.6,374.9 403.6,374.4 404.6,374.1 405.6,373.9 406.6,373.6 407.6,373.3 408.6,373.5 409.6,373.7 410.7,373.1 411.7,372.3 412.7,371.6 413.7,371.1 414.7,370.5 415.7,370.1 416.7,369.7 417.7,368.5 418.7,367.7 419.8,367.8 420.8,367.5 421.8,366.7 422.8,366.3 423.8,366.1 424.8,365.9 425.8,365.7 426.8,365.0 427.8,363.6 428.9,362.9 429.9,362.8 430.9,362.1 431.9,361.2 432.9,360.8 433.9,360.2 434.9,359.7 435.9,359.1 436.9,357.9 437.9,356.3 439.0,354.7 440.0,354.1 441.0,353.9 442.0,352.7 443.0,351.0 444.0,350.0 445.0,349.6 446.0,349.2 447.0,348.5 448.1,347.2 449.1,345.9 450.1,344.4 451.1,343.1 452.1,342.4 453.1,341.1 454.1,339.2 455.1,337.5 456.1,336.2 457.1,335.6 458.2,334.4 459.2,332.4 460.2,330.8 461.2,329.5 462.2,327.8 463.2,326.0 464.2,324.7 465.2,322.8 466.2,320.1 467.3,318.0 468.3,316.7 469.3,315.7 470.3,314.2 471.3,312.3 472.3,310.2 473.3,307.6 474.3,304.9 475.3,303.1 476.4,301.5 477.4,299.6 478.4,297.0 479.4,294.5 480.4,292.5 481.4,290.2 482.4,287.9 483.4,285.7 484.4,282.8 485.4,279.6 486.5,276.4 487.5,273.6 488.5,271.9 489.5,269.7 490.5,266.3 491.5,263.4 492.5,261.2 493.5,258.6 494.5,254.9 495.6,251.7 496.6,249.2 497.6,246.4 498.6,243.4 499.6,240.4 500.6,237.4 501.6,234.1 502.6,230.8 503.6,228.0 504.6,224.9 505.7,221.3 506.7,218.2 507.7,215.2 508.7,211.9 509.7,208.6 510.7,205.3 511.7,201.9 512.7,198.6 513.7,195.1 514.8,191.7 515.8,188.2 516.8,184.8 517.8,181.2 518.8,177.7 519.8,174.2 520.8,170.6 521.8,167.0 522.8,163.4 523.8,159.9 524.9,156.3 525.9,152.7 526.9,149.2 527.9,145.6 528.9,142.1 529.9,138.6 530.9,135.1 531.9,131.7 532.9,128.3 534.0,124.9 535.0,121.6 536.0,118.4 537.0,115.1 538.0,111.9 539.0,108.8 540.0,105.7 541.0,102.7 542.0,99.7 543.1,96.7 544.1,93.9 545.1,91.0 546.1,88.3 547.1,85.5 548.1,82.9 549.1,80.3 550.1,77.7 551.1,75.2 552.1,72.7 553.2,70.4 554.2,68.0 555.2,65.7 556.2,63.5 557.2,61.3 558.2,59.2 559.2,57.1 560.2,55.1 561.2,53.1 562.3,51.2 563.3,49.3 564.3,47.5 565.3,45.8 566.3,44.0 567.3,42.4 568.3,40.7 569.3,39.1 570.3,37.6 571.3,36.1 572.4,34.7 573.4,33.2 574.4,31.9 575.4,30.5 576.4,29.3 577.4,28.0 578.4,26.8 579.4,25.6 580.4,24.5 581.5,23.4 582.5,22.3 583.5,21.3 584.5,20.3 585.5,19.3 586.5,18.4 587.5,17.4 588.5,16.6 589.5,15.7 590.6,14.9 591.6,14.1 592.6,13.3 593.6,12.6 594.6,11.9 595.6,11.2 596.6,10.5 597.6,9.8 598.6,9.2 599.6,8.6 600.7,8.0 601.7,7.4" fill="none" stroke="#69cde0" stroke-width="1.8" stroke-linejoin="round" />
<polyline points="97.4,342.8 98.4,343.9 99.4,344.6 100.4,345.7 101.4,346.9 102.4,347.4 103.4,348.4 104.4,349.7 105.5,350.3 106.5,350.6 107.5,351.5 108.5,352.8 109.5,353.7 110.5,354.4 111.5,355.3 112.5,356.2 113.5,357.0 114.5,357.8 115.6,359.2 116.6,360.2 117.6,360.3 118.6,360.6 119.6,361.0 120.6,361.5 121.6,362.0 122.6,362.4 123.6,363.1 124.7,363.7 125.7,364.0 126.7,364.6 127.7,365.4 128.7,366.1 129.7,366.9 130.7,367.3 131.7,367.4 132.7,367.6 133.8,368.2 134.8,368.2 135.8,367.9 136.8,368.4 137.8,369.4 138.8,369.9 139.8,370.2 140.8,370.5 141.8,370.9 142.8,371.2 143.9,371.6 144.9,372.1 145.9,372.6 146.9,372.7 147.9,372.5 148.9,372.6 149.9,372.9 150.9,372.9 151.9,373.2 153.0,374.0 154.0,374.2 155.0,374.0 156.0,374.4 157.0,374.6 158.0,374.4 159.0,374.7 160.0,374.8 161.0,374.6 162.0,375.1 163.1,375.5 164.1,375.5 165.1,375.3 166.1,375.3 167.1,375.8 168.1,375.9 169.1,376.0 170.1,376.1 171.1,375.7 172.2,375.9 173.2,376.5 174.2,376.8 175.2,376.7 176.2,376.8 177.2,376.7 178.2,377.1 179.2,378.3 180.2,378.7 181.2,378.3 182.3,378.4 183.3,378.3 184.3,378.1 185.3,378.0 186.3,377.8 187.3,377.7 188.3,377.8 189.3,378.1 190.3,378.4 191.4,378.6 192.4,379.2 193.4,380.0 194.4,380.7 195.4,380.6 196.4,380.7 197.4,381.2 198.4,381.1 199.4,380.9 200.5,380.7 201.5,381.0 202.5,381.5 203.5,382.0 204.5,382.4 205.5,382.0 206.5,382.0 207.5,382.5 208.5,382.2 209.5,382.2 210.6,382.7 211.6,383.0 212.6,382.6 213.6,382.5 214.6,383.0 215.6,383.3 216.6,382.8 217.6,382.5 218.6,382.7 219.7,383.0 220.7,383.4 221.7,383.4 222.7,383.3 223.7,382.8 224.7,382.3 225.7,382.9 226.7,383.5 227.7,383.5 228.7,383.7 229.8,383.4 230.8,383.2 231.8,383.5 232.8,383.8 233.8,383.8 234.8,383.6 235.8,383.2 236.8,382.6 237.8,382.7 238.9,383.4 239.9,383.4 240.9,382.3 241.9,382.1 242.9,382.5 243.9,382.8 244.9,382.9 245.9,382.7 246.9,382.1 248.0,382.6 249.0,383.4 250.0,383.7 251.0,383.6 252.0,382.6 253.0,381.7 254.0,381.1 255.0,381.3 256.0,382.1 257.0,382.0 258.1,381.5 259.1,381.7 260.1,381.9 261.1,381.6 262.1,381.2 263.1,381.1 264.1,381.5 265.1,381.8 266.1,381.9 267.2,381.9 268.2,381.8 269.2,381.5 270.2,381.0 271.2,380.6 272.2,380.2 273.2,380.1 274.2,380.6 275.2,381.0 276.2,380.5 277.3,380.3 278.3,381.0 279.3,381.3 280.3,381.2 281.3,380.9 282.3,380.7 283.3,380.5 284.3,380.3 285.3,380.4 286.4,380.3 287.4,380.2 288.4,380.0 289.4,379.4 290.4,379.2 291.4,379.3 292.4,379.3 293.4,379.0 294.4,378.9 295.4,379.4 296.5,379.6 297.5,378.8 298.5,378.4 299.5,378.5 300.5,378.6 301.5,378.5 302.5,378.7 303.5,378.9 304.5,378.6 305.6,378.3 306.6,378.6 307.6,378.3 308.6,377.5 309.6,377.5 310.6,378.1 311.6,378.7 312.6,379.3 313.6,378.9 314.7,377.9 315.7,377.6 316.7,378.3 317.7,377.9 318.7,376.7 319.7,376.7 320.7,376.9 321.7,376.8 322.7,377.1 323.7,377.2 324.8,376.8 325.8,376.9 326.8,377.0 327.8,377.0 328.8,377.5 329.8,377.0 330.8,376.0 331.8,376.4 332.8,376.9 333.9,377.1 334.9,377.2 335.9,377.2 336.9,376.9 337.9,376.1 338.9,375.6 339.9,375.5 340.9,375.8 341.9,376.1 342.9,375.8 344.0,375.6 345.0,375.7 346.0,376.2 347.0,376.1 348.0,375.5 349.0,375.5 350.0,376.0 351.0,376.2 352.0,376.0 353.1,375.5 354.1,375.5 355.1,375.8 356.1,375.8 357.1,375.7 358.1,375.6 359.1,375.3 360.1,375.2 361.1,375.8 362.2,376.5 363.2,376.4 364.2,375.8 365.2,375.5 366.2,375.3 367.2,374.7 368.2,374.5 369.2,375.0 370.2,375.0 371.2,374.2 372.3,373.9 373.3,374.0 374.3,374.0 375.3,373.8 376.3,373.3 377.3,373.1 378.3,372.9 379.3,372.7 380.3,372.6 381.4,373.3 382.4,373.1 383.4,372.3 384.4,372.3 385.4,372.7 386.4,372.5 387.4,372.0 388.4,372.0 389.4,371.5 390.4,370.8 391.5,370.2 392.5,370.1 393.5,370.6 394.5,370.7 395.5,370.6 396.5,370.3 397.5,369.5 398.5,369.1 399.5,369.1 400.6,369.0 401.6,368.6 402.6,368.2 403.6,368.0 404.6,367.5 405.6,366.8 406.6,367.1 407.6,367.2 408.6,366.1 409.6,365.6 410.7,364.9 411.7,363.8 412.7,363.9 413.7,364.4 414.7,363.7 415.7,362.8 416.7,362.1 417.7,361.1 418.7,360.8 419.8,360.8 420.8,360.2 421.8,359.5 422.8,359.2 423.8,358.6 424.8,357.5 425.8,357.2 426.8,357.2 427.8,356.5 428.9,355.5 429.9,354.8 430.9,353.9 431.9,352.9 432.9,352.6 433.9,352.1 434.9,351.3 435.9,351.0 436.9,349.8 437.9,348.4 439.0,347.9 440.0,346.8 441.0,345.1 442.0,344.1 443.0,343.4 444.0,342.5 445.0,341.6 446.0,340.5 447.0,338.9 448.1,337.2 449.1,336.4 450.1,336.0 451.1,334.8 452.1,333.8 453.1,333.0 454.1,331.3 455.1,329.5 456.1,328.7 457.1,327.3 458.2,325.0 459.2,323.6 460.2,322.5 461.2,320.9 462.2,319.2 463.2,317.5 464.2,316.1 465.2,314.8 466.2,312.9 467.3,311.4 468.3,309.7 469.3,307.5 470.3,305.8 471.3,304.3 472.3,303.0 473.3,301.9 474.3,299.7 475.3,297.1 476.4,294.4 477.4,292.1 478.4,290.6 479.4,289.2 480.4,287.3 481.4,284.8 482.4,282.7 483.4,280.7 484.4,277.6 485.4,274.5 486.5,272.4 487.5,271.0 488.5,268.9 489.5,266.6 490.5,264.6 491.5,262.3 492.5,259.5 493.5,256.4 494.5,253.5 495.6,250.9 496.6,249.1 497.6,246.9 498.6,243.8 499.6,240.7 500.6,237.9 501.6,235.3 502.6,232.9 503.6,230.4 504.6,227.9 505.7,224.9 506.7,221.8 507.7,219.2 508.7,216.7 509.7,213.6 510.7,210.7 511.7,207.7 512.7,204.8 513.7,201.7 514.8,198.7 515.8,195.5 516.8,192.4 517.8,189.1 518.8,185.8 519.8,182.5 520.8,179.1 521.8,175.7 522.8,172.2 523.8,168.7 524.9,165.1 525.9,161.5 526.9,157.9 527.9,154.2 528.9,150.6 529.9,146.9 530.9,143.3 531.9,139.6 532.9,136.0 534.0,132.4 535.0,128.9 536.0,125.3 537.0,121.8 538.0,118.4 539.0,115.0 540.0,111.7 541.0,108.4 542.0,105.2 543.1,102.0 544.1,98.9 545.1,95.8 546.1,92.8 547.1,89.9 548.1,87.0 549.1,84.2 550.1,81.4 551.1,78.8 552.1,76.1 553.2,73.6 554.2,71.0 555.2,68.6 556.2,66.2 557.2,63.9 558.2,61.6 559.2,59.4 560.2,57.3 561.2,55.2 562.3,53.1 563.3,51.1 564.3,49.2 565.3,47.3 566.3,45.5 567.3,43.7 568.3,42.0 569.3,40.3 570.3,38.7 571.3,37.1 572.4,35.6 573.4,34.1 574.4,32.7 575.4,31.3 576.4,30.0 577.4,28.7 578.4,27.4 579.4,26.2 580.4,25.0 581.5,23.8 582.5,22.7 583.5,21.6 584.5,20.6 585.5,19.6 586.5,18.6 587.5,17.7 588.5,16.8 589.5,15.9 590.6,15.0 591.6,14.2 592.6,13.4 593.6,12.7 594.6,11.9 595.6,11.2 596.6,10.5 597.6,9.9 598.6,9.2 599.6,8.6 600.7,8.0 601.7,7.4" fill="none" stroke="#e0352f" stroke-width="1.8" stroke-linejoin="round" />
<polyline points="97.4,343.1 98.4,344.3 99.4,345.5 100.4,346.8 101.4,347.7 102.4,347.9 103.4,348.7 104.4,349.8 105.5,350.6 106.5,351.7 107.5,353.3 108.5,354.1 109.5,353.8 110.5,354.3 111.5,355.5 112.5,356.7 113.5,357.5 114.5,357.8 115.6,358.3 116.6,358.9 117.6,359.9 118.6,361.3 119.6,361.9 120.6,362.2 121.6,362.9 122.6,363.0 123.6,363.4 124.7,364.3 125.7,364.7 126.7,365.0 127.7,365.7 128.7,366.5 129.7,367.0 130.7,366.9 131.7,367.0 132.7,367.8 133.8,368.9 134.8,369.9 135.8,370.3 136.8,370.7 137.8,371.0 138.8,371.1 139.8,371.2 140.8,371.7 141.8,372.4 142.8,372.7 143.9,372.9 144.9,373.7 145.9,373.8 146.9,373.6 147.9,374.0 148.9,374.2 149.9,373.9 150.9,373.9 151.9,374.8 153.0,375.9 154.0,375.9 155.0,375.5 156.0,375.5 157.0,375.5 158.0,375.3 159.0,375.9 160.0,377.0 161.0,377.7 162.0,377.5 163.1,376.8 164.1,377.0 165.1,377.7 166.1,378.2 167.1,378.0 168.1,377.7 169.1,378.0 170.1,378.4 171.1,378.0 172.2,377.7 173.2,378.5 174.2,379.3 175.2,379.2 176.2,379.0 177.2,379.0 178.2,379.3 179.2,379.6 180.2,379.5 181.2,379.5 182.3,379.6 183.3,378.8 184.3,379.0 185.3,380.3 186.3,380.3 187.3,379.5 188.3,379.1 189.3,379.7 190.3,381.1 191.4,381.5 192.4,381.0 193.4,380.9 194.4,381.2 195.4,381.0 196.4,380.7 197.4,381.1 198.4,381.7 199.4,381.6 200.5,381.6 201.5,381.6 202.5,381.4 203.5,381.4 204.5,381.5 205.5,381.6 206.5,381.2 207.5,381.4 208.5,382.2 209.5,382.3 210.6,382.4 211.6,382.6 212.6,382.3 213.6,382.4 214.6,382.9 215.6,382.7 216.6,382.4 217.6,382.8 218.6,382.8 219.7,382.5 220.7,382.9 221.7,382.7 222.7,382.2 223.7,382.7 224.7,383.6 225.7,383.4 226.7,383.1 227.7,382.9 228.7,382.6 229.8,382.5 230.8,382.6 231.8,382.5 232.8,382.1 233.8,382.5 234.8,382.8 235.8,382.4 236.8,382.4 237.8,382.8 238.9,383.3 239.9,383.4 240.9,383.0 241.9,382.2 242.9,382.0 243.9,382.4 244.9,382.5 245.9,382.5 246.9,382.8 248.0,383.0 249.0,382.6 250.0,382.1 251.0,382.3 252.0,382.6 253.0,382.2 254.0,381.6 255.0,381.5 256.0,381.9 257.0,381.5 258.1,381.1 259.1,381.7 260.1,381.9 261.1,381.8 262.1,381.8 263.1,381.9 264.1,382.0 265.1,381.8 266.1,381.4 267.2,381.6 268.2,381.9 269.2,381.7 270.2,381.4 271.2,381.0 272.2,380.4 273.2,380.5 274.2,381.2 275.2,381.7 276.2,381.7 277.3,381.1 278.3,380.7 279.3,381.1 280.3,381.4 281.3,381.5 282.3,381.3 283.3,380.2 284.3,379.8 285.3,380.2 286.4,379.9 287.4,380.3 288.4,380.7 289.4,380.1 290.4,379.6 291.4,379.8 292.4,379.7 293.4,379.4 294.4,379.5 295.4,379.5 296.5,379.5 297.5,380.3 298.5,380.9 299.5,380.7 300.5,379.9 301.5,379.7 302.5,380.1 303.5,379.6 304.5,379.1 305.6,379.5 306.6,379.2 307.6,378.7 308.6,378.9 309.6,379.3 310.6,379.3 311.6,379.0 312.6,378.7 313.6,378.7 314.7,378.8 315.7,378.8 316.7,378.9 317.7,379.0 318.7,378.5 319.7,378.0 320.7,377.8 321.7,377.5 322.7,377.5 323.7,377.6 324.8,377.3 325.8,377.3 326.8,377.9 327.8,378.2 328.8,377.8 329.8,377.5 330.8,377.3 331.8,377.2 332.8,377.4 333.9,377.7 334.9,377.5 335.9,377.7 336.9,377.9 337.9,377.3 338.9,377.3 339.9,377.4 340.9,377.1 341.9,377.4 342.9,377.6 344.0,377.0 345.0,376.1 346.0,375.8 347.0,376.1 348.0,376.6 349.0,376.5 350.0,375.8 351.0,375.6 352.0,376.2 353.1,377.0 354.1,376.8 355.1,376.2 356.1,376.2 357.1,375.8 358.1,374.6 359.1,374.1 360.1,374.8 361.1,375.3 362.2,375.1 363.2,374.6 364.2,374.3 365.2,374.6 366.2,375.4 367.2,375.7 368.2,375.0 369.2,374.4 370.2,374.1 371.2,374.4 372.3,374.3 373.3,374.3 374.3,373.8 375.3,373.0 376.3,373.0 377.3,373.0 378.3,372.9 379.3,373.0 380.3,373.0 381.4,372.3 382.4,371.4 383.4,371.3 384.4,371.2 385.4,370.9 386.4,371.1 387.4,371.4 388.4,371.3 389.4,370.5 390.4,370.1 391.5,369.8 392.5,369.6 393.5,369.7 394.5,369.5 395.5,369.4 396.5,369.1 397.5,368.0 398.5,367.4 399.5,367.7 400.6,367.8 401.6,366.8 402.6,365.4 403.6,365.0 404.6,364.5 405.6,363.8 406.6,364.2 407.6,364.8 408.6,364.3 409.6,363.1 410.7,362.1 411.7,362.0 412.7,361.6 413.7,361.0 414.7,360.5 415.7,359.7 416.7,359.2 417.7,358.9 418.7,358.5 419.8,357.8 420.8,357.1 421.8,356.2 422.8,355.1 423.8,354.2 424.8,353.3 425.8,352.3 426.8,351.3 427.8,351.2 428.9,350.6 429.9,349.3 430.9,348.5 431.9,347.4 432.9,346.2 433.9,345.6 434.9,344.6 435.9,343.3 436.9,342.4 437.9,342.0 439.0,341.2 440.0,340.1 441.0,339.2 442.0,338.1 443.0,336.5 444.0,334.7 445.0,333.3 446.0,332.5 447.0,331.5 448.1,330.5 449.1,329.2 450.1,327.3 451.1,325.3 452.1,323.7 453.1,322.4 454.1,321.7 455.1,320.6 456.1,318.0 457.1,315.6 458.2,314.1 459.2,312.5 460.2,310.4 461.2,308.5 462.2,307.2 463.2,305.5 464.2,303.8 465.2,302.3 466.2,300.9 467.3,299.4 468.3,297.5 469.3,295.2 470.3,293.4 471.3,291.9 472.3,289.9 473.3,287.3 474.3,284.6 475.3,282.5 476.4,280.9 477.4,279.1 478.4,276.7 479.4,273.8 480.4,271.5 481.4,269.0 482.4,265.8 483.4,263.3 484.4,261.5 485.4,259.6 486.5,257.4 487.5,254.7 488.5,252.1 489.5,250.2 490.5,248.3 491.5,246.1 492.5,243.4 493.5,240.0 494.5,237.0 495.6,234.6 496.6,232.3 497.6,230.0 498.6,227.3 499.6,224.2 500.6,220.8 501.6,217.8 502.6,215.5 503.6,213.4 504.6,210.7 505.7,207.6 506.7,204.9 507.7,202.1 508.7,198.4 509.7,195.6 510.7,192.5 511.7,189.4 512.7,186.2 513.7,183.0 514.8,179.7 515.8,176.4 516.8,173.1 517.8,169.7 518.8,166.3 519.8,162.8 520.8,159.4 521.8,155.9 522.8,152.4 523.8,149.0 524.9,145.5 525.9,142.0 526.9,138.6 527.9,135.2 528.9,131.8 529.9,128.4 530.9,125.1 531.9,121.8 532.9,118.6 534.0,115.4 535.0,112.3 536.0,109.2 537.0,106.1 538.0,103.1 539.0,100.2 540.0,97.3 541.0,94.4 542.0,91.6 543.1,88.9 544.1,86.2 545.1,83.6 546.1,81.0 547.1,78.5 548.1,76.1 549.1,73.7 550.1,71.3 551.1,69.0 552.1,66.8 553.2,64.6 554.2,62.4 555.2,60.3 556.2,58.3 557.2,56.3 558.2,54.4 559.2,52.5 560.2,50.7 561.2,48.9 562.3,47.1 563.3,45.4 564.3,43.8 565.3,42.1 566.3,40.6 567.3,39.1 568.3,37.6 569.3,36.1 570.3,34.8 571.3,33.4 572.4,32.1 573.4,30.8 574.4,29.6 575.4,28.4 576.4,27.2 577.4,26.1 578.4,25.0 579.4,23.9 580.4,22.9 581.5,21.9 582.5,20.9 583.5,19.9 584.5,19.0 585.5,18.2 586.5,17.3 587.5,16.5 588.5,15.7 589.5,14.9 590.6,14.1 591.6,13.4 592.6,12.7 593.6,12.0 594.6,11.4 595.6,10.8 596.6,10.1 597.6,9.5 598.6,9.0 599.6,8.4 600.7,7.9 601.7,7.4" fill="none" stroke="#313131" stroke-width="1.8" stroke-linejoin="round" />
<polyline points="97.4,348.4 98.4,349.0 99.4,349.1 100.4,349.9 101.4,350.9 102.4,351.9 103.4,352.9 104.4,354.0 105.5,354.7 106.5,355.6 107.5,357.0 108.5,357.2 109.5,357.1 110.5,358.4 111.5,359.0 112.5,358.7 113.5,359.3 114.5,360.8 115.6,361.8 116.6,362.3 117.6,362.9 118.6,363.6 119.6,364.1 120.6,364.5 121.6,365.4 122.6,366.6 123.6,366.9 124.7,367.0 125.7,367.9 126.7,368.4 127.7,367.8 128.7,368.1 129.7,369.2 130.7,369.7 131.7,369.5 132.7,369.8 133.8,370.7 134.8,371.3 135.8,371.8 136.8,372.3 137.8,373.3 138.8,373.8 139.8,373.6 140.8,373.5 141.8,373.8 142.8,374.1 143.9,374.2 144.9,374.3 145.9,374.6 146.9,375.0 147.9,375.2 148.9,375.7 149.9,376.0 150.9,376.4 151.9,377.4 153.0,377.3 154.0,376.9 155.0,377.7 156.0,377.9 157.0,377.3 158.0,377.3 159.0,378.0 160.0,378.6 161.0,379.0 162.0,378.8 163.1,378.4 164.1,378.6 165.1,379.0 166.1,379.1 167.1,379.2 168.1,379.5 169.1,380.0 170.1,380.2 171.1,380.1 172.2,380.3 173.2,379.6 174.2,379.0 175.2,379.0 176.2,379.6 177.2,380.7 178.2,381.2 179.2,381.5 180.2,382.0 181.2,382.5 182.3,382.2 183.3,381.4 184.3,381.1 185.3,381.1 186.3,381.2 187.3,381.8 188.3,382.5 189.3,382.5 190.3,382.1 191.4,382.2 192.4,382.9 193.4,383.4 194.4,383.1 195.4,382.6 196.4,382.9 197.4,383.7 198.4,383.9 199.4,384.1 200.5,384.5 201.5,384.5 202.5,384.5 203.5,384.5 204.5,384.3 205.5,383.6 206.5,383.2 207.5,383.8 208.5,384.6 209.5,385.3 210.6,385.5 211.6,384.4 212.6,384.2 213.6,385.1 214.6,385.2 215.6,384.8 216.6,385.5 217.6,386.1 218.6,385.5 219.7,385.1 220.7,385.4 221.7,385.5 222.7,385.1 223.7,385.0 224.7,385.5 225.7,385.6 226.7,385.8 227.7,386.0 228.7,386.0 229.8,386.0 230.8,385.6 231.8,385.1 232.8,385.5 233.8,385.6 234.8,384.9 235.8,384.6 236.8,384.8 237.8,384.9 238.9,385.0 239.9,385.3 240.9,385.5 241.9,385.2 242.9,384.9 243.9,384.7 244.9,384.9 245.9,385.4 246.9,385.2 248.0,385.1 249.0,384.9 250.0,384.5 251.0,384.6 252.0,384.6 253.0,384.3 254.0,384.1 255.0,383.7 256.0,383.7 257.0,384.3 258.1,384.6 259.1,384.1 260.1,383.6 261.1,383.8 262.1,384.6 263.1,384.9 264.1,384.6 265.1,384.0 266.1,383.4 267.2,383.1 268.2,383.0 269.2,382.8 270.2,382.5 271.2,382.6 272.2,382.9 273.2,382.9 274.2,382.5 275.2,382.1 276.2,381.9 277.3,382.0 278.3,382.4 279.3,382.0 280.3,381.5 281.3,381.8 282.3,382.2 283.3,382.3 284.3,382.2 285.3,381.6 286.4,381.1 287.4,381.2 288.4,381.7 289.4,382.1 290.4,381.6 291.4,380.7 292.4,381.0 293.4,381.3 294.4,381.2 295.4,381.1 296.5,381.1 297.5,380.6 298.5,380.3 299.5,380.6 300.5,380.6 301.5,380.3 302.5,380.3 303.5,380.4 304.5,380.5 305.6,380.9 306.6,381.3 307.6,381.2 308.6,380.9 309.6,380.6 310.6,380.0 311.6,379.7 312.6,379.9 313.6,379.7 314.7,379.6 315.7,380.0 316.7,379.9 317.7,379.3 318.7,379.2 319.7,379.4 320.7,379.4 321.7,379.5 322.7,379.6 323.7,379.2 324.8,378.5 325.8,378.5 326.8,379.3 327.8,379.5 328.8,379.1 329.8,379.1 330.8,379.0 331.8,378.8 332.8,378.8 333.9,378.6 334.9,378.7 335.9,379.0 336.9,379.0 337.9,378.8 338.9,377.9 339.9,377.7 340.9,378.1 341.9,377.9 342.9,377.9 344.0,377.8 345.0,377.5 346.0,377.6 347.0,377.7 348.0,377.6 349.0,377.8 350.0,378.0 351.0,378.4 352.0,378.1 353.1,377.0 354.1,377.0 355.1,377.6 356.1,377.3 357.1,377.4 358.1,378.0 359.1,377.7 360.1,376.7 361.1,375.8 362.2,375.6 363.2,375.7 364.2,375.8 365.2,376.0 366.2,376.3 367.2,375.9 368.2,375.7 369.2,376.1 370.2,375.5 371.2,374.5 372.3,374.0 373.3,374.4 374.3,375.1 375.3,375.2 376.3,374.7 377.3,374.3 378.3,374.7 379.3,375.1 380.3,374.8 381.4,374.0 382.4,373.5 383.4,373.7 384.4,373.6 385.4,372.9 386.4,372.5 387.4,372.8 388.4,372.5 389.4,371.9 390.4,371.3 391.5,370.8 392.5,370.6 393.5,370.4 394.5,369.8 395.5,369.6 396.5,369.7 397.5,369.8 398.5,369.8 399.5,369.4 400.6,369.2 401.6,369.0 402.6,368.6 403.6,368.5 404.6,368.0 405.6,367.1 406.6,366.4 407.6,365.9 408.6,365.1 409.6,364.1 410.7,364.1 411.7,364.7 412.7,364.7 413.7,363.9 414.7,363.4 415.7,363.3 416.7,362.8 417.7,361.9 418.7,360.5 419.8,358.8 420.8,358.2 421.8,358.5 422.8,358.3 423.8,357.9 424.8,357.2 425.8,355.9 426.8,354.9 427.8,354.1 428.9,353.2 429.9,352.2 430.9,351.3 431.9,350.6 432.9,349.7 433.9,348.9 434.9,347.9 435.9,347.1 436.9,346.7 437.9,345.7 439.0,344.3 440.0,343.1 441.0,342.1 442.0,341.4 443.0,340.4 444.0,338.8 445.0,337.5 446.0,336.2 447.0,334.5 448.1,333.0 449.1,331.7 450.1,330.7 451.1,329.4 452.1,327.7 453.1,326.6 454.1,325.2 455.1,323.5 456.1,322.0 457.1,320.8 458.2,319.6 459.2,317.9 460.2,315.7 461.2,313.8 462.2,312.4 463.2,310.5 464.2,308.6 465.2,307.1 466.2,305.5 467.3,303.9 468.3,302.2 469.3,299.7 470.3,297.5 471.3,295.5 472.3,293.3 473.3,291.2 474.3,289.3 475.3,287.0 476.4,284.4 477.4,282.0 478.4,280.5 479.4,278.7 480.4,276.1 481.4,273.2 482.4,270.5 483.4,268.4 484.4,266.0 485.4,262.9 486.5,260.5 487.5,258.7 488.5,256.6 489.5,254.2 490.5,251.0 491.5,248.0 492.5,246.2 493.5,243.9 494.5,241.1 495.6,238.4 496.6,235.2 497.6,232.7 498.6,230.1 499.6,226.7 500.6,223.4 501.6,221.0 502.6,219.2 503.6,216.3 504.6,213.0 505.7,210.2 506.7,207.1 507.7,203.6 508.7,199.9 509.7,197.2 510.7,194.1 511.7,190.9 512.7,187.6 513.7,184.3 514.8,181.0 515.8,177.7 516.8,174.3 517.8,170.9 518.8,167.4 519.8,163.9 520.8,160.4 521.8,156.9 522.8,153.4 523.8,149.9 524.9,146.4 525.9,143.0 526.9,139.5 527.9,136.1 528.9,132.7 529.9,129.3 530.9,125.9 531.9,122.6 532.9,119.4 534.0,116.2 535.0,113.0 536.0,109.9 537.0,106.8 538.0,103.8 539.0,100.8 540.0,97.9 541.0,95.0 542.0,92.2 543.1,89.5 544.1,86.8 545.1,84.1 546.1,81.5 547.1,79.0 548.1,76.5 549.1,74.1 550.1,71.7 551.1,69.4 552.1,67.1 553.2,64.9 554.2,62.7 555.2,60.6 556.2,58.6 557.2,56.5 558.2,54.6 559.2,52.7 560.2,50.8 561.2,49.0 562.3,47.3 563.3,45.5 564.3,43.9 565.3,42.3 566.3,40.7 567.3,39.2 568.3,37.7 569.3,36.2 570.3,34.8 571.3,33.4 572.4,32.1 573.4,30.8 574.4,29.6 575.4,28.4 576.4,27.2 577.4,26.1 578.4,25.0 579.4,23.9 580.4,22.9 581.5,21.9 582.5,20.9 583.5,19.9 584.5,19.0 585.5,18.1 586.5,17.3 587.5,16.5 588.5,15.7 589.5,14.9 590.6,14.1 591.6,13.4 592.6,12.7 593.6,12.0 594.6,11.4 595.6,10.7 596.6,10.1 597.6,9.5 598.6,9.0 599.6,8.4 600.7,7.9 601.7,7.4" fill="none" stroke="#2690a6" stroke-width="1.8" stroke-linejoin="round" />
<g stroke="#383838" stroke-width="2"><line x1="70.5" y1="400.7" x2="70.5" y2="406.7"/><line x1="173.84" y1="400.7" x2="173.84" y2="406.7"/><line x1="277.18" y1="400.7" x2="277.18" y2="406.7"/><line x1="380.52" y1="400.7" x2="380.52" y2="406.7"/><line x1="483.86" y1="400.7" x2="483.86" y2="406.7"/><line x1="587.2" y1="400.7" x2="587.2" y2="406.7"/><line x1="122.17" y1="400.7" x2="122.17" y2="396.7"/><line x1="122.17" y1="6.6" x2="122.17" y2="10.6"/><line x1="225.51" y1="400.7" x2="225.51" y2="396.7"/><line x1="225.51" y1="6.6" x2="225.51" y2="10.6"/><line x1="328.85" y1="400.7" x2="328.85" y2="396.7"/><line x1="328.85" y1="6.6" x2="328.85" y2="10.6"/><line x1="432.19" y1="400.7" x2="432.19" y2="396.7"/><line x1="432.19" y1="6.6" x2="432.19" y2="10.6"/><line x1="535.53" y1="400.7" x2="535.53" y2="396.7"/><line x1="535.53" y1="6.6" x2="535.53" y2="10.6"/><line x1="64.5" y1="6.6" x2="70.5" y2="6.6"/><line x1="64.5" y1="72.28" x2="70.5" y2="72.28"/><line x1="64.5" y1="137.96" x2="70.5" y2="137.96"/><line x1="64.5" y1="203.64" x2="70.5" y2="203.64"/><line x1="64.5" y1="269.32" x2="70.5" y2="269.32"/><line x1="64.5" y1="335" x2="70.5" y2="335"/><line x1="64.5" y1="400.68" x2="70.5" y2="400.68"/><line x1="70.5" y1="39.44" x2="74.5" y2="39.44"/><line x1="613" y1="39.44" x2="609" y2="39.44"/><line x1="70.5" y1="105.12" x2="74.5" y2="105.12"/><line x1="613" y1="105.12" x2="609" y2="105.12"/><line x1="70.5" y1="170.8" x2="74.5" y2="170.8"/><line x1="613" y1="170.8" x2="609" y2="170.8"/><line x1="70.5" y1="236.48" x2="74.5" y2="236.48"/><line x1="613" y1="236.48" x2="609" y2="236.48"/><line x1="70.5" y1="302.16" x2="74.5" y2="302.16"/><line x1="613" y1="302.16" x2="609" y2="302.16"/><line x1="70.5" y1="367.84" x2="74.5" y2="367.84"/><line x1="613" y1="367.84" x2="609" y2="367.84"/></g>
<rect x="70.5" y="6.6" width="542.5" height="394.1" fill="none" stroke="#383838" stroke-width="2.2"/>
<g font-size="19" font-weight="bold" fill="#1c1c1c"><text x="70.5" y="432.7" text-anchor="middle">0.0</text><text x="173.84" y="432.7" text-anchor="middle">0.2</text><text x="277.18" y="432.7" text-anchor="middle">0.4</text><text x="380.52" y="432.7" text-anchor="middle">0.6</text><text x="483.86" y="432.7" text-anchor="middle">0.8</text><text x="587.2" y="432.7" text-anchor="middle">1.0</text><text x="55.5" y="12.9" text-anchor="end">0</text><text x="55.5" y="78.58" text-anchor="end">-1</text><text x="55.5" y="144.26" text-anchor="end">-2</text><text x="55.5" y="209.94" text-anchor="end">-3</text><text x="55.5" y="275.62" text-anchor="end">-4</text><text x="55.5" y="341.3" text-anchor="end">-5</text><text x="55.5" y="406.98" text-anchor="end">-6</text></g>
<text transform="translate(30.5,399.8) rotate(-90)" font-size="20.3" font-weight="bold" fill="#1c1c1c">Current density (<tspan font-style="italic" dx="1">J</tspan><tspan dx="1.5">)</tspan> / mA cm<tspan font-size="12" dy="-8">-2</tspan><tspan dy="8"> (geometric)</tspan></text>
<text x="342" y="471.6" text-anchor="middle" font-size="20.2" font-weight="bold" fill="#1c1c1c">E vs. RHE/ V</text>
<rect x="83.2" y="66.2" width="120.4" height="174.6" fill="#fff" stroke="#505050" stroke-width="1.8"/>
<line x1="94.4" y1="87.5" x2="134" y2="87.5" stroke="#313131" stroke-width="2.2"/>
<text x="143.1" y="93.3" font-size="16.5" font-weight="bold" fill="#1c1c1c">Film 1</text>
<line x1="94.4" y1="109.5" x2="134" y2="109.5" stroke="#e0352f" stroke-width="2.2"/>
<text x="143.1" y="115.3" font-size="16.5" font-weight="bold" fill="#1c1c1c">Film 2</text>
<line x1="94.4" y1="131.5" x2="134" y2="131.5" stroke="#6cc35a" stroke-width="2.2"/>
<text x="143.1" y="137.3" font-size="16.5" font-weight="bold" fill="#1c1c1c">Film 3</text>
<line x1="94.4" y1="153.5" x2="134" y2="153.5" stroke="#3b46b0" stroke-width="2.2"/>
<text x="143.1" y="159.3" font-size="16.5" font-weight="bold" fill="#1c1c1c">Film 4</text>
<line x1="94.4" y1="175.5" x2="134" y2="175.5" stroke="#c052b8" stroke-width="2.2"/>
<text x="143.1" y="181.3" font-size="16.5" font-weight="bold" fill="#1c1c1c">Film 5</text>
<line x1="94.4" y1="197.5" x2="134" y2="197.5" stroke="#69cde0" stroke-width="2.2"/>
<text x="143.1" y="203.3" font-size="16.5" font-weight="bold" fill="#1c1c1c">Film 6</text>
<line x1="94.4" y1="219.5" x2="134" y2="219.5" stroke="#2690a6" stroke-width="2.2"/>
<text x="143.1" y="225.3" font-size="16.5" font-weight="bold" fill="#1c1c1c">Film 7</text>
<text x="81" y="31.8" font-size="23" font-weight="bold" fill="#1c1c1c">a)</text>
<g font-size="23.5" font-weight="bold" fill="#1c1c1c" text-anchor="middle"><text x="224" y="303.9">stationary drying</text><text x="224" y="330.2">"coffee-ring structure"</text></g>
<g stroke="#bebebb" stroke-width="1.7" stroke-dasharray="16.6 6.33"><line x1="771.41" y1="401.3" x2="771.41" y2="6.6"/><line x1="874.83" y1="401.3" x2="874.83" y2="6.6"/><line x1="978.25" y1="401.3" x2="978.25" y2="6.6"/><line x1="1081.67" y1="401.3" x2="1081.67" y2="6.6"/><line x1="1185.09" y1="401.3" x2="1185.09" y2="6.6"/><line x1="719.7" y1="9.4" x2="1262.9" y2="9.4"/><line x1="719.7" y1="72.65" x2="1262.9" y2="72.65"/><line x1="719.7" y1="135.9" x2="1262.9" y2="135.9"/><line x1="719.7" y1="199.15" x2="1262.9" y2="199.15"/><line x1="719.7" y1="262.4" x2="1262.9" y2="262.4"/><line x1="719.7" y1="325.65" x2="1262.9" y2="325.65"/><line x1="719.7" y1="388.9" x2="1262.9" y2="388.9"/></g>
<rect x="887" y="29.5" width="254" height="249.5" fill="#fff"/>
<clipPath id="clipB"><circle cx="1014.2" cy="155.5" r="122.6"/></clipPath>
<circle cx="1014.2" cy="155.5" r="122.6" fill="#58646e"/>
<g clip-path="url(#clipB)"><ellipse cx="1008" cy="160" rx="62" ry="72" fill="#4f5b65" filter="url(#blur6)" opacity="0.8"/><ellipse cx="1060" cy="60" rx="50" ry="30" fill="#5d6973" filter="url(#blur6)" opacity="0.7"/><circle cx="1088" cy="125" r="8" fill="#626e78" filter="url(#blur3)" opacity="0.8"/></g>
<circle cx="1012" cy="161" r="12.5" fill="none" stroke="#67747d" stroke-width="11" filter="url(#blur2)"/>
<circle cx="1012" cy="161" r="2.2" fill="#46515a" filter="url(#blur1)"/>
<circle cx="1011" cy="110" r="1.6" fill="#3e4850" opacity="0.85"/>
<circle cx="1082" cy="129" r="1.6" fill="#3e4850" opacity="0.85"/>
<circle cx="992" cy="197.5" r="1.8" fill="#3e4850" opacity="0.85"/>
<circle cx="1017" cy="234" r="2.2" fill="#3e4850" opacity="0.85"/>
<circle cx="1114.7" cy="127.5" r="1.4" fill="#3e4850" opacity="0.85"/>
<circle cx="941" cy="110" r="1.2" fill="#3e4850" opacity="0.85"/>
<circle cx="922" cy="180" r="1.2" fill="#3e4850" opacity="0.85"/>
<polyline points="746.6,373.2 747.6,373.3 748.6,373.3 749.6,373.6 750.6,374.0 751.6,374.2 752.7,374.3 753.7,374.6 754.7,374.8 755.7,375.4 756.7,375.9 757.7,375.7 758.7,375.2 759.7,375.8 760.7,376.9 761.8,377.2 762.8,377.3 763.8,377.7 764.8,377.9 765.8,378.2 766.8,378.5 767.8,378.6 768.8,378.9 769.9,379.6 770.9,380.2 771.9,380.4 772.9,380.4 773.9,380.3 774.9,380.8 775.9,381.0 776.9,381.0 777.9,381.2 779.0,381.5 780.0,381.8 781.0,382.3 782.0,382.6 783.0,383.2 784.0,383.9 785.0,383.8 786.0,383.6 787.0,384.3 788.1,384.6 789.1,384.5 790.1,384.9 791.1,385.8 792.1,386.7 793.1,386.8 794.1,386.6 795.1,386.4 796.1,386.4 797.2,386.9 798.2,387.8 799.2,388.2 800.2,387.3 801.2,386.8 802.2,387.3 803.2,387.7 804.2,387.5 805.3,387.2 806.3,387.1 807.3,387.2 808.3,388.1 809.3,388.7 810.3,388.0 811.3,387.8 812.3,388.3 813.3,388.6 814.4,389.0 815.4,389.3 816.4,389.5 817.4,389.5 818.4,388.9 819.4,388.3 820.4,388.5 821.4,389.1 822.4,389.6 823.5,390.0 824.5,389.7 825.5,388.4 826.5,388.0 827.5,389.0 828.5,389.3 829.5,389.0 830.5,389.2 831.5,389.2 832.6,389.3 833.6,389.3 834.6,389.1 835.6,389.5 836.6,389.8 837.6,389.4 838.6,389.4 839.6,389.9 840.6,389.8 841.7,389.6 842.7,389.7 843.7,389.5 844.7,389.3 845.7,389.3 846.7,389.6 847.7,390.0 848.7,389.7 849.8,389.1 850.8,389.0 851.8,389.3 852.8,389.6 853.8,390.0 854.8,390.5 855.8,390.6 856.8,390.3 857.8,390.0 858.9,390.2 859.9,390.0 860.9,389.5 861.9,389.2 862.9,389.2 863.9,389.6 864.9,390.3 865.9,390.5 866.9,389.9 868.0,389.6 869.0,389.9 870.0,390.4 871.0,390.7 872.0,390.7 873.0,390.5 874.0,390.6 875.0,390.2 876.0,389.5 877.1,389.9 878.1,390.6 879.1,390.5 880.1,390.3 881.1,390.0 882.1,389.5 883.1,390.0 884.1,390.8 885.2,390.7 886.2,390.0 887.2,390.1 888.2,390.8 889.2,391.1 890.2,390.7 891.2,390.2 892.2,390.0 893.2,390.0 894.3,389.7 895.3,389.8 896.3,390.5 897.3,390.3 898.3,389.6 899.3,389.9 900.3,389.9 901.3,389.8 902.3,390.2 903.4,390.6 904.4,390.6 905.4,390.1 906.4,390.1 907.4,390.6 908.4,390.8 909.4,389.9 910.4,389.6 911.4,389.8 912.5,390.0 913.5,390.5 914.5,390.6 915.5,389.9 916.5,389.6 917.5,390.5 918.5,390.8 919.5,390.1 920.6,389.4 921.6,389.1 922.6,389.4 923.6,389.3 924.6,389.0 925.6,389.4 926.6,389.3 927.6,389.1 928.6,389.8 929.7,389.8 930.7,389.1 931.7,389.3 932.7,389.9 933.7,389.3 934.7,388.7 935.7,389.0 936.7,389.1 937.7,389.3 938.8,389.2 939.8,388.6 940.8,388.4 941.8,388.6 942.8,389.0 943.8,389.1 944.8,389.0 945.8,389.0 946.8,389.3 947.9,389.1 948.9,388.9 949.9,389.3 950.9,389.5 951.9,389.3 952.9,389.5 953.9,389.6 954.9,389.3 955.9,388.8 957.0,389.0 958.0,388.9 959.0,388.6 960.0,388.8 961.0,388.6 962.0,388.7 963.0,389.2 964.0,389.2 965.1,388.6 966.1,388.0 967.1,388.1 968.1,388.7 969.1,389.4 970.1,389.4 971.1,389.2 972.1,389.1 973.1,388.8 974.2,388.5 975.2,388.1 976.2,387.9 977.2,388.0 978.2,388.2 979.2,388.1 980.2,387.8 981.2,387.4 982.2,387.2 983.3,387.5 984.3,388.5 985.3,388.7 986.3,387.9 987.3,387.6 988.3,387.8 989.3,387.5 990.3,387.6 991.3,387.9 992.4,388.0 993.4,388.6 994.4,388.8 995.4,388.4 996.4,388.2 997.4,387.9 998.4,388.1 999.4,388.7 1000.5,388.2 1001.5,387.9 1002.5,388.3 1003.5,388.2 1004.5,388.3 1005.5,388.1 1006.5,387.0 1007.5,386.7 1008.5,387.2 1009.6,387.1 1010.6,386.4 1011.6,386.3 1012.6,386.6 1013.6,386.6 1014.6,386.7 1015.6,386.8 1016.6,386.7 1017.6,386.6 1018.7,386.5 1019.7,386.7 1020.7,386.9 1021.7,386.7 1022.7,386.2 1023.7,385.8 1024.7,386.1 1025.7,386.4 1026.7,386.3 1027.8,386.6 1028.8,386.7 1029.8,386.2 1030.8,385.6 1031.8,385.4 1032.8,385.3 1033.8,385.0 1034.8,385.2 1035.9,385.5 1036.9,385.4 1037.9,385.4 1038.9,385.3 1039.9,385.2 1040.9,385.6 1041.9,385.9 1042.9,385.7 1043.9,385.4 1045.0,385.3 1046.0,385.5 1047.0,385.8 1048.0,385.7 1049.0,384.8 1050.0,384.3 1051.0,384.5 1052.0,384.3 1053.0,383.8 1054.1,384.0 1055.1,384.2 1056.1,384.2 1057.1,384.1 1058.1,384.0 1059.1,383.9 1060.1,383.9 1061.1,384.1 1062.1,384.1 1063.2,383.7 1064.2,383.6 1065.2,384.1 1066.2,384.4 1067.2,384.1 1068.2,383.6 1069.2,383.3 1070.2,383.4 1071.2,383.4 1072.3,383.3 1073.3,383.4 1074.3,383.4 1075.3,383.0 1076.3,383.2 1077.3,383.0 1078.3,382.6 1079.3,382.3 1080.4,381.7 1081.4,381.4 1082.4,382.2 1083.4,382.8 1084.4,383.0 1085.4,382.7 1086.4,381.8 1087.4,381.5 1088.4,381.4 1089.5,381.4 1090.5,381.8 1091.5,381.7 1092.5,380.8 1093.5,380.2 1094.5,380.1 1095.5,380.0 1096.5,379.9 1097.5,379.9 1098.6,379.8 1099.6,379.4 1100.6,378.7 1101.6,378.1 1102.6,378.5 1103.6,379.2 1104.6,378.4 1105.6,377.3 1106.6,376.8 1107.7,376.6 1108.7,376.7 1109.7,376.3 1110.7,375.8 1111.7,375.0 1112.7,373.9 1113.7,373.4 1114.7,373.0 1115.8,371.9 1116.8,371.1 1117.8,371.1 1118.8,370.8 1119.8,370.3 1120.8,369.9 1121.8,369.1 1122.8,368.0 1123.8,366.6 1124.9,365.3 1125.9,364.5 1126.9,363.7 1127.9,362.6 1128.9,361.7 1129.9,360.3 1130.9,358.3 1131.9,356.8 1132.9,355.3 1134.0,353.7 1135.0,352.6 1136.0,351.7 1137.0,350.3 1138.0,348.6 1139.0,346.7 1140.0,345.0 1141.0,343.2 1142.0,341.4 1143.1,338.8 1144.1,335.5 1145.1,333.5 1146.1,332.1 1147.1,329.4 1148.1,327.1 1149.1,324.9 1150.1,321.7 1151.2,318.2 1152.2,315.0 1153.2,312.1 1154.2,309.5 1155.2,306.2 1156.2,302.5 1157.2,299.1 1158.2,295.7 1159.2,292.4 1160.3,288.7 1161.3,284.9 1162.3,281.0 1163.3,277.1 1164.3,273.0 1165.3,268.8 1166.3,264.6 1167.3,260.2 1168.3,255.8 1169.4,251.3 1170.4,246.7 1171.4,242.1 1172.4,237.3 1173.4,232.5 1174.4,227.7 1175.4,222.7 1176.4,217.8 1177.4,212.7 1178.5,207.7 1179.5,202.6 1180.5,197.4 1181.5,192.3 1182.5,187.1 1183.5,181.9 1184.5,176.7 1185.5,171.5 1186.5,166.3 1187.6,161.2 1188.6,156.1 1189.6,151.0 1190.6,146.0 1191.6,141.0 1192.6,136.1 1193.6,131.3 1194.6,126.6 1195.7,121.9 1196.7,117.4 1197.7,112.9 1198.7,108.5 1199.7,104.3 1200.7,100.2 1201.7,96.1 1202.7,92.2 1203.7,88.4 1204.8,84.7 1205.8,81.1 1206.8,77.7 1207.8,74.3 1208.8,71.1 1209.8,68.0 1210.8,65.0 1211.8,62.1 1212.8,59.4 1213.9,56.7 1214.9,54.1 1215.9,51.7 1216.9,49.3 1217.9,47.0 1218.9,44.9 1219.9,42.8 1220.9,40.8 1221.9,38.9 1223.0,37.1 1224.0,35.4 1225.0,33.7 1226.0,32.1 1227.0,30.6 1228.0,29.2 1229.0,27.8 1230.0,26.5 1231.1,25.3 1232.1,24.1 1233.1,22.9 1234.1,21.9 1235.1,20.9 1236.1,19.9 1237.1,19.0 1238.1,18.1 1239.1,17.3 1240.2,16.5 1241.2,15.7 1242.2,15.0 1243.2,14.3 1244.2,13.7 1245.2,13.1 1246.2,12.5 1247.2,12.0 1248.2,11.4 1249.3,10.9 1250.3,10.5 1251.3,10.0" fill="none" stroke="#58b84a" stroke-width="1.7" stroke-linejoin="round" />
<polyline points="746.6,370.2 747.6,370.3 748.6,370.1 749.6,370.2 750.6,370.4 751.6,370.9 752.7,371.4 753.7,371.6 754.7,372.1 755.7,372.7 756.7,372.9 757.7,372.6 758.7,372.7 759.7,373.3 760.7,374.0 761.8,374.6 762.8,374.6 763.8,374.5 764.8,374.7 765.8,374.8 766.8,374.9 767.8,375.3 768.8,375.9 769.9,376.5 770.9,376.3 771.9,376.3 772.9,376.8 773.9,377.2 774.9,377.7 775.9,377.9 776.9,377.9 777.9,378.6 779.0,379.3 780.0,379.5 781.0,379.9 782.0,380.4 783.0,381.1 784.0,382.0 785.0,381.6 786.0,381.1 787.0,382.3 788.1,383.1 789.1,382.5 790.1,382.2 791.1,383.3 792.1,384.5 793.1,384.8 794.1,384.7 795.1,384.5 796.1,384.4 797.2,385.1 798.2,386.0 799.2,385.9 800.2,385.2 801.2,385.0 802.2,385.8 803.2,386.4 804.2,386.2 805.3,386.3 806.3,386.5 807.3,386.1 808.3,385.9 809.3,385.9 810.3,385.9 811.3,385.8 812.3,385.6 813.3,385.8 814.4,386.5 815.4,386.6 816.4,386.3 817.4,386.6 818.4,387.0 819.4,387.1 820.4,387.3 821.4,387.9 822.4,388.3 823.5,387.3 824.5,386.2 825.5,386.4 826.5,386.7 827.5,387.1 828.5,387.4 829.5,387.2 830.5,387.2 831.5,387.3 832.6,387.4 833.6,387.5 834.6,387.4 835.6,387.0 836.6,387.0 837.6,387.2 838.6,387.2 839.6,387.8 840.6,388.8 841.7,388.8 842.7,388.3 843.7,388.1 844.7,388.0 845.7,388.3 846.7,388.3 847.7,388.3 848.7,388.4 849.8,388.3 850.8,388.0 851.8,388.0 852.8,388.1 853.8,387.9 854.8,387.8 855.8,388.2 856.8,388.5 857.8,388.6 858.9,388.5 859.9,388.4 860.9,387.7 861.9,386.9 862.9,387.3 863.9,387.9 864.9,387.9 865.9,387.7 866.9,387.4 868.0,387.6 869.0,387.9 870.0,387.8 871.0,388.1 872.0,388.5 873.0,388.9 874.0,389.4 875.0,388.9 876.0,387.6 877.1,387.5 878.1,388.5 879.1,388.6 880.1,388.1 881.1,388.2 882.1,387.9 883.1,387.2 884.1,387.3 885.2,387.5 886.2,388.2 887.2,388.9 888.2,389.1 889.2,388.9 890.2,388.6 891.2,388.6 892.2,388.5 893.2,388.4 894.3,388.4 895.3,388.2 896.3,388.4 897.3,388.3 898.3,387.9 899.3,388.2 900.3,388.4 901.3,388.2 902.3,388.3 903.4,388.1 904.4,387.8 905.4,388.2 906.4,388.4 907.4,388.3 908.4,388.4 909.4,388.3 910.4,387.9 911.4,388.1 912.5,388.0 913.5,387.7 914.5,388.2 915.5,388.6 916.5,388.1 917.5,387.8 918.5,387.4 919.5,387.1 920.6,387.3 921.6,387.2 922.6,386.9 923.6,387.0 924.6,387.5 925.6,387.8 926.6,387.7 927.6,387.3 928.6,386.9 929.7,387.1 930.7,387.7 931.7,387.4 932.7,387.1 933.7,387.6 934.7,387.7 935.7,387.8 936.7,387.8 937.7,387.4 938.8,387.5 939.8,387.6 940.8,387.3 941.8,387.3 942.8,387.5 943.8,387.1 944.8,386.6 945.8,386.4 946.8,386.8 947.9,387.5 948.9,387.9 949.9,387.2 950.9,386.6 951.9,387.0 952.9,387.3 953.9,386.9 954.9,387.0 955.9,387.1 957.0,386.4 958.0,386.2 959.0,386.5 960.0,386.3 961.0,386.1 962.0,386.4 963.0,386.5 964.0,386.7 965.1,387.2 966.1,386.8 967.1,386.4 968.1,386.6 969.1,386.8 970.1,386.8 971.1,387.1 972.1,387.1 973.1,386.8 974.2,386.7 975.2,386.2 976.2,385.8 977.2,385.6 978.2,385.8 979.2,386.2 980.2,386.4 981.2,386.5 982.2,386.4 983.3,386.0 984.3,385.9 985.3,386.1 986.3,386.3 987.3,386.2 988.3,385.8 989.3,385.8 990.3,385.8 991.3,385.3 992.4,385.6 993.4,386.4 994.4,386.7 995.4,387.0 996.4,386.8 997.4,386.5 998.4,386.4 999.4,386.1 1000.5,386.1 1001.5,385.6 1002.5,384.9 1003.5,385.2 1004.5,385.2 1005.5,384.9 1006.5,385.0 1007.5,385.2 1008.5,385.4 1009.6,385.4 1010.6,385.1 1011.6,385.1 1012.6,385.2 1013.6,384.8 1014.6,384.5 1015.6,384.4 1016.6,384.8 1017.6,384.9 1018.7,384.4 1019.7,384.3 1020.7,385.2 1021.7,385.6 1022.7,384.7 1023.7,383.9 1024.7,384.0 1025.7,384.3 1026.7,384.1 1027.8,384.1 1028.8,384.0 1029.8,383.8 1030.8,383.6 1031.8,383.6 1032.8,383.7 1033.8,383.7 1034.8,383.9 1035.9,384.0 1036.9,384.0 1037.9,383.8 1038.9,383.2 1039.9,382.9 1040.9,383.4 1041.9,383.6 1042.9,383.3 1043.9,382.9 1045.0,382.9 1046.0,383.1 1047.0,382.9 1048.0,382.6 1049.0,383.0 1050.0,383.4 1051.0,383.6 1052.0,383.3 1053.0,383.0 1054.1,382.8 1055.1,382.6 1056.1,382.6 1057.1,382.5 1058.1,382.6 1059.1,382.9 1060.1,383.0 1061.1,382.3 1062.1,382.0 1063.2,382.5 1064.2,382.8 1065.2,382.8 1066.2,382.6 1067.2,382.3 1068.2,381.9 1069.2,381.6 1070.2,381.6 1071.2,382.1 1072.3,382.3 1073.3,381.9 1074.3,381.2 1075.3,380.6 1076.3,380.4 1077.3,380.4 1078.3,380.6 1079.3,381.2 1080.4,381.4 1081.4,380.9 1082.4,380.4 1083.4,380.2 1084.4,380.1 1085.4,380.3 1086.4,380.4 1087.4,380.2 1088.4,380.0 1089.5,379.5 1090.5,379.3 1091.5,379.8 1092.5,379.5 1093.5,378.6 1094.5,378.2 1095.5,378.4 1096.5,378.4 1097.5,377.8 1098.6,377.7 1099.6,378.1 1100.6,377.9 1101.6,378.1 1102.6,378.1 1103.6,377.4 1104.6,376.9 1105.6,376.2 1106.6,375.2 1107.7,374.9 1108.7,374.4 1109.7,373.2 1110.7,372.6 1111.7,372.5 1112.7,372.2 1113.7,372.1 1114.7,371.7 1115.8,371.2 1116.8,370.6 1117.8,369.3 1118.8,367.7 1119.8,366.9 1120.8,367.0 1121.8,367.1 1122.8,366.2 1123.8,364.7 1124.9,363.5 1125.9,362.7 1126.9,362.2 1127.9,361.3 1128.9,359.8 1129.9,358.3 1130.9,357.1 1131.9,356.0 1132.9,354.4 1134.0,352.4 1135.0,350.6 1136.0,349.6 1137.0,349.1 1138.0,347.8 1139.0,345.8 1140.0,344.4 1141.0,342.6 1142.0,339.6 1143.1,337.1 1144.1,335.1 1145.1,332.9 1146.1,330.6 1147.1,328.4 1148.1,325.8 1149.1,323.1 1150.1,320.9 1151.2,318.5 1152.2,315.5 1153.2,312.1 1154.2,309.3 1155.2,306.9 1156.2,303.7 1157.2,299.5 1158.2,295.1 1159.2,292.4 1160.3,288.7 1161.3,284.9 1162.3,281.0 1163.3,277.0 1164.3,273.0 1165.3,268.8 1166.3,264.6 1167.3,260.2 1168.3,255.8 1169.4,251.3 1170.4,246.7 1171.4,242.1 1172.4,237.3 1173.4,232.5 1174.4,227.7 1175.4,222.7 1176.4,217.8 1177.4,212.7 1178.5,207.7 1179.5,202.6 1180.5,197.4 1181.5,192.3 1182.5,187.1 1183.5,181.9 1184.5,176.7 1185.5,171.5 1186.5,166.3 1187.6,161.2 1188.6,156.1 1189.6,151.0 1190.6,146.0 1191.6,141.0 1192.6,136.1 1193.6,131.3 1194.6,126.6 1195.7,121.9 1196.7,117.4 1197.7,112.9 1198.7,108.5 1199.7,104.3 1200.7,100.2 1201.7,96.1 1202.7,92.2 1203.7,88.4 1204.8,84.7 1205.8,81.1 1206.8,77.7 1207.8,74.3 1208.8,71.1 1209.8,68.0 1210.8,65.0 1211.8,62.1 1212.8,59.4 1213.9,56.7 1214.9,54.1 1215.9,51.7 1216.9,49.3 1217.9,47.0 1218.9,44.9 1219.9,42.8 1220.9,40.8 1221.9,38.9 1223.0,37.1 1224.0,35.4 1225.0,33.7 1226.0,32.1 1227.0,30.6 1228.0,29.2 1229.0,27.8 1230.0,26.5 1231.1,25.3 1232.1,24.1 1233.1,22.9 1234.1,21.9 1235.1,20.9 1236.1,19.9 1237.1,19.0 1238.1,18.1 1239.1,17.3 1240.2,16.5 1241.2,15.7 1242.2,15.0 1243.2,14.3 1244.2,13.7 1245.2,13.1 1246.2,12.5 1247.2,12.0 1248.2,11.4 1249.3,10.9 1250.3,10.5 1251.3,10.0" fill="none" stroke="#4556b0" stroke-width="1.7" stroke-linejoin="round" />
<polyline points="746.6,370.4 747.6,370.7 748.6,371.2 749.6,371.7 750.6,371.8 751.6,371.6 752.7,371.4 753.7,371.1 754.7,370.8 755.7,371.2 756.7,372.4 757.7,372.9 758.7,372.9 759.7,373.1 760.7,372.9 761.8,373.2 762.8,373.9 763.8,373.8 764.8,373.6 765.8,374.3 766.8,375.0 767.8,375.2 768.8,375.5 769.9,375.9 770.9,376.1 771.9,376.5 772.9,377.2 773.9,377.4 774.9,377.5 775.9,377.9 776.9,378.6 777.9,379.2 779.0,379.3 780.0,379.3 781.0,379.4 782.0,379.7 783.0,380.1 784.0,380.8 785.0,381.6 786.0,382.5 787.0,383.0 788.1,383.1 789.1,382.9 790.1,382.9 791.1,383.3 792.1,383.7 793.1,384.0 794.1,384.5 795.1,384.7 796.1,384.9 797.2,385.0 798.2,385.5 799.2,385.9 800.2,385.9 801.2,385.6 802.2,384.8 803.2,385.0 804.2,385.9 805.3,386.3 806.3,386.4 807.3,386.4 808.3,386.0 809.3,386.1 810.3,386.3 811.3,385.8 812.3,385.7 813.3,386.0 814.4,386.5 815.4,387.2 816.4,387.4 817.4,387.5 818.4,387.4 819.4,386.4 820.4,386.1 821.4,387.1 822.4,387.2 823.5,386.8 824.5,387.0 825.5,387.3 826.5,387.4 827.5,387.4 828.5,387.4 829.5,387.0 830.5,386.9 831.5,387.2 832.6,387.6 833.6,387.5 834.6,387.5 835.6,387.9 836.6,388.5 837.6,388.7 838.6,388.2 839.6,387.6 840.6,387.5 841.7,388.2 842.7,388.2 843.7,387.4 844.7,387.3 845.7,388.1 846.7,388.6 847.7,388.6 848.7,388.0 849.8,387.3 850.8,387.6 851.8,388.2 852.8,388.2 853.8,388.2 854.8,388.2 855.8,388.1 856.8,387.7 857.8,387.4 858.9,387.7 859.9,387.9 860.9,387.8 861.9,387.8 862.9,388.2 863.9,388.4 864.9,388.0 865.9,387.7 866.9,387.8 868.0,388.1 869.0,388.5 870.0,388.9 871.0,388.5 872.0,388.2 873.0,388.4 874.0,388.6 875.0,388.4 876.0,388.1 877.1,388.0 878.1,388.4 879.1,388.7 880.1,388.0 881.1,387.1 882.1,387.5 883.1,388.0 884.1,388.3 885.2,388.4 886.2,388.0 887.2,388.1 888.2,388.4 889.2,388.2 890.2,388.2 891.2,388.4 892.2,388.6 893.2,388.4 894.3,388.0 895.3,388.5 896.3,388.9 897.3,388.6 898.3,388.3 899.3,388.8 900.3,388.8 901.3,388.0 902.3,387.9 903.4,388.1 904.4,388.1 905.4,387.8 906.4,387.5 907.4,388.0 908.4,388.4 909.4,388.4 910.4,388.1 911.4,387.7 912.5,387.6 913.5,387.7 914.5,387.8 915.5,387.8 916.5,387.5 917.5,387.1 918.5,386.8 919.5,387.1 920.6,387.0 921.6,386.5 922.6,386.7 923.6,387.6 924.6,387.6 925.6,386.8 926.6,386.6 927.6,387.0 928.6,387.6 929.7,388.0 930.7,387.7 931.7,387.3 932.7,387.2 933.7,387.6 934.7,387.9 935.7,387.6 936.7,388.0 937.7,388.8 938.8,388.2 939.8,387.1 940.8,387.2 941.8,388.3 942.8,388.3 943.8,387.7 944.8,387.8 945.8,387.8 946.8,387.6 947.9,387.6 948.9,387.7 949.9,387.7 950.9,387.4 951.9,387.2 952.9,386.8 953.9,386.6 954.9,386.4 955.9,386.5 957.0,387.2 958.0,387.1 959.0,386.6 960.0,387.2 961.0,387.7 962.0,387.3 963.0,386.4 964.0,385.9 965.1,386.2 966.1,386.6 967.1,386.8 968.1,387.1 969.1,387.7 970.1,387.6 971.1,387.2 972.1,387.0 973.1,386.4 974.2,386.0 975.2,386.1 976.2,386.8 977.2,386.9 978.2,386.4 979.2,386.2 980.2,386.0 981.2,386.0 982.2,386.4 983.3,386.2 984.3,385.9 985.3,386.0 986.3,386.2 987.3,386.4 988.3,386.0 989.3,385.3 990.3,385.3 991.3,386.3 992.4,386.6 993.4,385.8 994.4,385.5 995.4,385.4 996.4,384.6 997.4,384.8 998.4,386.0 999.4,385.7 1000.5,385.3 1001.5,385.9 1002.5,386.2 1003.5,385.7 1004.5,385.2 1005.5,384.8 1006.5,385.0 1007.5,385.1 1008.5,384.2 1009.6,383.7 1010.6,384.1 1011.6,384.5 1012.6,384.5 1013.6,384.8 1014.6,385.4 1015.6,385.5 1016.6,385.3 1017.6,385.2 1018.7,385.0 1019.7,384.9 1020.7,384.7 1021.7,384.7 1022.7,385.1 1023.7,385.0 1024.7,384.4 1025.7,383.7 1026.7,383.8 1027.8,384.0 1028.8,384.0 1029.8,384.6 1030.8,384.9 1031.8,384.3 1032.8,383.7 1033.8,383.7 1034.8,383.7 1035.9,383.7 1036.9,383.5 1037.9,383.0 1038.9,383.1 1039.9,383.8 1040.9,384.0 1041.9,383.7 1042.9,383.6 1043.9,383.3 1045.0,382.9 1046.0,382.9 1047.0,383.1 1048.0,383.3 1049.0,383.5 1050.0,383.2 1051.0,382.7 1052.0,382.8 1053.0,382.8 1054.1,382.5 1055.1,382.4 1056.1,382.9 1057.1,382.7 1058.1,382.1 1059.1,382.2 1060.1,382.4 1061.1,382.4 1062.1,382.3 1063.2,382.0 1064.2,381.5 1065.2,381.7 1066.2,382.1 1067.2,381.8 1068.2,382.2 1069.2,381.9 1070.2,381.3 1071.2,381.2 1072.3,381.0 1073.3,381.2 1074.3,381.2 1075.3,380.8 1076.3,380.9 1077.3,381.0 1078.3,380.7 1079.3,381.0 1080.4,381.4 1081.4,380.7 1082.4,379.2 1083.4,379.3 1084.4,380.3 1085.4,379.9 1086.4,379.4 1087.4,379.6 1088.4,379.7 1089.5,379.9 1090.5,379.5 1091.5,378.9 1092.5,378.9 1093.5,379.0 1094.5,379.0 1095.5,379.2 1096.5,379.0 1097.5,378.4 1098.6,378.1 1099.6,377.5 1100.6,377.0 1101.6,377.4 1102.6,377.5 1103.6,376.6 1104.6,376.1 1105.6,376.0 1106.6,375.6 1107.7,375.3 1108.7,374.8 1109.7,373.8 1110.7,372.9 1111.7,372.7 1112.7,372.6 1113.7,371.6 1114.7,370.7 1115.8,370.4 1116.8,370.0 1117.8,369.5 1118.8,368.7 1119.8,367.5 1120.8,366.6 1121.8,366.3 1122.8,365.5 1123.8,364.7 1124.9,364.0 1125.9,362.6 1126.9,361.2 1127.9,360.4 1128.9,359.8 1129.9,359.1 1130.9,357.6 1131.9,356.3 1132.9,355.0 1134.0,353.2 1135.0,351.9 1136.0,350.7 1137.0,348.9 1138.0,347.2 1139.0,345.6 1140.0,343.9 1141.0,342.4 1142.0,340.4 1143.1,337.9 1144.1,335.5 1145.1,333.3 1146.1,331.2 1147.1,328.5 1148.1,326.0 1149.1,323.9 1150.1,320.6 1151.2,317.3 1152.2,315.1 1153.2,312.5 1154.2,309.4 1155.2,306.1 1156.2,302.6 1157.2,299.3 1158.2,296.1 1159.2,292.4 1160.3,288.7 1161.3,284.9 1162.3,281.0 1163.3,277.0 1164.3,273.0 1165.3,268.8 1166.3,264.6 1167.3,260.2 1168.3,255.8 1169.4,251.3 1170.4,246.7 1171.4,242.1 1172.4,237.3 1173.4,232.5 1174.4,227.7 1175.4,222.7 1176.4,217.8 1177.4,212.7 1178.5,207.7 1179.5,202.6 1180.5,197.4 1181.5,192.3 1182.5,187.1 1183.5,181.9 1184.5,176.7 1185.5,171.5 1186.5,166.3 1187.6,161.2 1188.6,156.1 1189.6,151.0 1190.6,146.0 1191.6,141.0 1192.6,136.1 1193.6,131.3 1194.6,126.6 1195.7,121.9 1196.7,117.4 1197.7,112.9 1198.7,108.5 1199.7,104.3 1200.7,100.2 1201.7,96.1 1202.7,92.2 1203.7,88.4 1204.8,84.7 1205.8,81.1 1206.8,77.7 1207.8,74.3 1208.8,71.1 1209.8,68.0 1210.8,65.0 1211.8,62.1 1212.8,59.4 1213.9,56.7 1214.9,54.1 1215.9,51.7 1216.9,49.3 1217.9,47.0 1218.9,44.9 1219.9,42.8 1220.9,40.8 1221.9,38.9 1223.0,37.1 1224.0,35.4 1225.0,33.7 1226.0,32.1 1227.0,30.6 1228.0,29.2 1229.0,27.8 1230.0,26.5 1231.1,25.3 1232.1,24.1 1233.1,22.9 1234.1,21.9 1235.1,20.9 1236.1,19.9 1237.1,19.0 1238.1,18.1 1239.1,17.3 1240.2,16.5 1241.2,15.7 1242.2,15.0 1243.2,14.3 1244.2,13.7 1245.2,13.1 1246.2,12.5 1247.2,12.0 1248.2,11.4 1249.3,10.9 1250.3,10.5 1251.3,10.0" fill="none" stroke="#e0453f" stroke-width="1.7" stroke-linejoin="round" />
<polyline points="746.6,368.3 747.6,368.7 748.6,369.1 749.6,369.1 750.6,368.9 751.6,369.1 752.7,369.4 753.7,369.6 754.7,369.8 755.7,370.0 756.7,370.3 757.7,371.2 758.7,371.8 759.7,371.9 760.7,372.0 761.8,371.9 762.8,371.8 763.8,372.0 764.8,372.7 765.8,373.4 766.8,373.5 767.8,373.5 768.8,373.8 769.9,374.4 770.9,374.9 771.9,375.2 772.9,375.8 773.9,376.2 774.9,376.2 775.9,376.2 776.9,376.4 777.9,377.2 779.0,377.8 780.0,377.4 781.0,377.8 782.0,379.1 783.0,379.5 784.0,379.4 785.0,380.1 786.0,380.8 787.0,380.7 788.1,381.0 789.1,381.3 790.1,381.6 791.1,382.5 792.1,382.9 793.1,382.6 794.1,382.7 795.1,383.0 796.1,383.1 797.2,383.2 798.2,383.6 799.2,384.2 800.2,384.3 801.2,384.2 802.2,384.8 803.2,385.1 804.2,384.9 805.3,385.2 806.3,385.7 807.3,385.7 808.3,385.0 809.3,384.8 810.3,385.1 811.3,385.6 812.3,385.8 813.3,385.8 814.4,386.1 815.4,386.2 816.4,385.9 817.4,385.9 818.4,386.3 819.4,386.2 820.4,386.1 821.4,386.2 822.4,386.0 823.5,386.2 824.5,386.8 825.5,386.5 826.5,386.3 827.5,386.8 828.5,387.3 829.5,387.1 830.5,386.6 831.5,386.6 832.6,386.8 833.6,386.4 834.6,386.0 835.6,386.2 836.6,386.8 837.6,387.0 838.6,386.4 839.6,386.7 840.6,387.6 841.7,388.1 842.7,388.2 843.7,387.7 844.7,387.6 845.7,387.3 846.7,387.0 847.7,387.4 848.7,387.3 849.8,387.5 850.8,387.6 851.8,387.0 852.8,387.1 853.8,387.5 854.8,387.5 855.8,387.8 856.8,388.0 857.8,387.6 858.9,387.5 859.9,388.2 860.9,388.2 861.9,387.8 862.9,388.0 863.9,388.0 864.9,388.0 865.9,388.3 866.9,388.2 868.0,387.9 869.0,387.6 870.0,387.4 871.0,387.3 872.0,387.3 873.0,387.5 874.0,387.7 875.0,387.4 876.0,387.2 877.1,387.3 878.1,387.6 879.1,387.8 880.1,388.0 881.1,388.2 882.1,387.9 883.1,388.0 884.1,388.1 885.2,387.5 886.2,387.1 887.2,387.3 888.2,387.6 889.2,388.2 890.2,387.8 891.2,386.9 892.2,387.1 893.2,387.5 894.3,388.1 895.3,388.3 896.3,387.5 897.3,386.9 898.3,386.6 899.3,386.6 900.3,387.1 901.3,387.7 902.3,388.2 903.4,387.9 904.4,387.2 905.4,386.6 906.4,386.2 907.4,386.3 908.4,386.9 909.4,387.3 910.4,387.4 911.4,387.3 912.5,387.0 913.5,386.8 914.5,387.4 915.5,388.1 916.5,387.4 917.5,386.1 918.5,386.2 919.5,387.1 920.6,387.2 921.6,386.8 922.6,386.8 923.6,387.3 924.6,388.0 925.6,387.9 926.6,387.1 927.6,386.6 928.6,386.4 929.7,386.3 930.7,386.6 931.7,386.8 932.7,386.6 933.7,386.6 934.7,386.5 935.7,386.4 936.7,386.7 937.7,386.5 938.8,386.0 939.8,386.2 940.8,387.0 941.8,387.3 942.8,386.8 943.8,386.2 944.8,386.6 945.8,387.4 946.8,387.1 947.9,386.4 948.9,386.2 949.9,386.3 950.9,386.4 951.9,386.8 952.9,386.9 953.9,386.9 954.9,387.1 955.9,387.0 957.0,386.6 958.0,386.5 959.0,386.4 960.0,386.0 961.0,385.8 962.0,385.7 963.0,385.4 964.0,385.5 965.1,385.8 966.1,385.7 967.1,385.6 968.1,385.6 969.1,386.3 970.1,387.0 971.1,386.5 972.1,386.1 973.1,386.2 974.2,386.2 975.2,386.1 976.2,385.9 977.2,385.4 978.2,385.2 979.2,385.3 980.2,385.6 981.2,386.2 982.2,386.3 983.3,386.1 984.3,386.0 985.3,385.7 986.3,385.2 987.3,385.0 988.3,385.1 989.3,385.2 990.3,385.5 991.3,385.4 992.4,384.9 993.4,385.4 994.4,386.0 995.4,385.5 996.4,385.2 997.4,385.6 998.4,385.5 999.4,385.0 1000.5,384.5 1001.5,384.5 1002.5,385.2 1003.5,385.0 1004.5,384.0 1005.5,383.5 1006.5,383.7 1007.5,384.0 1008.5,384.5 1009.6,385.0 1010.6,384.7 1011.6,384.8 1012.6,385.1 1013.6,384.6 1014.6,383.6 1015.6,383.3 1016.6,383.9 1017.6,383.9 1018.7,383.5 1019.7,383.7 1020.7,383.6 1021.7,383.1 1022.7,383.0 1023.7,383.9 1024.7,384.5 1025.7,383.8 1026.7,383.1 1027.8,383.4 1028.8,383.6 1029.8,383.5 1030.8,383.0 1031.8,382.8 1032.8,382.7 1033.8,382.5 1034.8,382.2 1035.9,382.3 1036.9,382.8 1037.9,383.1 1038.9,382.8 1039.9,382.2 1040.9,381.7 1041.9,381.9 1042.9,382.1 1043.9,381.8 1045.0,381.8 1046.0,382.0 1047.0,382.1 1048.0,382.2 1049.0,381.6 1050.0,380.8 1051.0,380.8 1052.0,381.0 1053.0,381.0 1054.1,381.3 1055.1,381.8 1056.1,381.9 1057.1,381.5 1058.1,381.0 1059.1,380.3 1060.1,380.1 1061.1,380.9 1062.1,381.3 1063.2,380.9 1064.2,380.7 1065.2,380.6 1066.2,380.5 1067.2,380.5 1068.2,380.5 1069.2,380.2 1070.2,379.8 1071.2,379.9 1072.3,380.0 1073.3,380.0 1074.3,379.8 1075.3,379.9 1076.3,380.1 1077.3,380.0 1078.3,379.8 1079.3,379.7 1080.4,379.3 1081.4,378.6 1082.4,378.5 1083.4,378.7 1084.4,378.7 1085.4,378.6 1086.4,378.5 1087.4,378.5 1088.4,378.6 1089.5,378.3 1090.5,377.6 1091.5,377.1 1092.5,376.9 1093.5,377.4 1094.5,378.0 1095.5,377.4 1096.5,376.4 1097.5,376.6 1098.6,376.9 1099.6,376.2 1100.6,375.7 1101.6,375.9 1102.6,376.0 1103.6,376.0 1104.6,375.8 1105.6,374.9 1106.6,374.3 1107.7,373.9 1108.7,373.3 1109.7,372.5 1110.7,371.8 1111.7,371.8 1112.7,371.9 1113.7,371.7 1114.7,371.2 1115.8,370.3 1116.8,369.1 1117.8,368.3 1118.8,367.7 1119.8,366.9 1120.8,366.5 1121.8,365.8 1122.8,365.1 1123.8,364.3 1124.9,363.2 1125.9,362.2 1126.9,361.3 1127.9,360.6 1128.9,359.3 1129.9,357.4 1130.9,356.1 1131.9,355.3 1132.9,354.1 1134.0,352.9 1135.0,351.5 1136.0,350.1 1137.0,348.2 1138.0,346.3 1139.0,344.7 1140.0,342.9 1141.0,340.9 1142.0,338.6 1143.1,337.1 1144.1,335.9 1145.1,333.5 1146.1,330.5 1147.1,328.3 1148.1,326.1 1149.1,323.3 1150.1,320.1 1151.2,317.2 1152.2,314.8 1153.2,312.3 1154.2,309.1 1155.2,305.6 1156.2,303.1 1157.2,300.0 1158.2,295.5 1159.2,292.3 1160.3,288.6 1161.3,284.9 1162.3,281.0 1163.3,277.0 1164.3,273.0 1165.3,268.8 1166.3,264.5 1167.3,260.2 1168.3,255.8 1169.4,251.3 1170.4,246.7 1171.4,242.0 1172.4,237.3 1173.4,232.5 1174.4,227.7 1175.4,222.7 1176.4,217.8 1177.4,212.7 1178.5,207.7 1179.5,202.6 1180.5,197.4 1181.5,192.3 1182.5,187.1 1183.5,181.9 1184.5,176.7 1185.5,171.5 1186.5,166.3 1187.6,161.2 1188.6,156.1 1189.6,151.0 1190.6,146.0 1191.6,141.0 1192.6,136.1 1193.6,131.3 1194.6,126.6 1195.7,121.9 1196.7,117.4 1197.7,112.9 1198.7,108.5 1199.7,104.3 1200.7,100.2 1201.7,96.1 1202.7,92.2 1203.7,88.4 1204.8,84.7 1205.8,81.1 1206.8,77.7 1207.8,74.3 1208.8,71.1 1209.8,68.0 1210.8,65.0 1211.8,62.1 1212.8,59.4 1213.9,56.7 1214.9,54.1 1215.9,51.7 1216.9,49.3 1217.9,47.0 1218.9,44.9 1219.9,42.8 1220.9,40.8 1221.9,38.9 1223.0,37.1 1224.0,35.4 1225.0,33.7 1226.0,32.1 1227.0,30.6 1228.0,29.2 1229.0,27.8 1230.0,26.5 1231.1,25.3 1232.1,24.1 1233.1,22.9 1234.1,21.9 1235.1,20.9 1236.1,19.9 1237.1,19.0 1238.1,18.1 1239.1,17.3 1240.2,16.5 1241.2,15.7 1242.2,15.0 1243.2,14.3 1244.2,13.7 1245.2,13.1 1246.2,12.5 1247.2,12.0 1248.2,11.4 1249.3,10.9 1250.3,10.5 1251.3,10.0" fill="none" stroke="#353535" stroke-width="1.7" stroke-linejoin="round" />
<polyline points="746.6,358.0 747.6,358.6 748.6,359.3 749.6,359.4 750.6,359.3 751.6,359.6 752.7,360.1 753.7,360.7 754.7,360.9 755.7,361.2 756.7,361.6 757.7,361.9 758.7,362.1 759.7,362.4 760.7,363.2 761.8,363.8 762.8,364.0 763.8,364.4 764.8,364.7 765.8,364.7 766.8,364.9 767.8,365.3 768.8,365.4 769.9,365.6 770.9,366.3 771.9,366.5 772.9,366.9 773.9,368.1 774.9,368.4 775.9,368.1 776.9,368.2 777.9,368.4 779.0,368.5 780.0,368.7 781.0,369.2 782.0,369.9 783.0,369.9 784.0,370.0 785.0,370.7 786.0,371.4 787.0,371.8 788.1,371.9 789.1,372.0 790.1,372.3 791.1,372.7 792.1,373.1 793.1,373.3 794.1,373.2 795.1,372.7 796.1,372.4 797.2,372.9 798.2,373.2 799.2,372.9 800.2,373.5 801.2,374.3 802.2,374.3 803.2,374.1 804.2,374.1 805.3,374.6 806.3,375.4 807.3,375.1 808.3,374.3 809.3,374.6 810.3,375.5 811.3,375.7 812.3,375.9 813.3,376.7 814.4,377.0 815.4,376.3 816.4,376.2 817.4,376.5 818.4,376.5 819.4,376.4 820.4,376.1 821.4,375.7 822.4,376.0 823.5,376.1 824.5,376.0 825.5,375.9 826.5,376.6 827.5,376.9 828.5,376.0 829.5,375.5 830.5,376.4 831.5,377.0 832.6,376.5 833.6,376.6 834.6,377.3 835.6,377.1 836.6,376.8 837.6,377.1 838.6,377.5 839.6,377.4 840.6,377.3 841.7,377.4 842.7,377.3 843.7,377.0 844.7,376.8 845.7,377.2 846.7,377.4 847.7,377.0 848.7,377.4 849.8,378.0 850.8,377.8 851.8,377.4 852.8,377.4 853.8,377.4 854.8,377.0 855.8,377.1 856.8,377.9 857.8,378.4 858.9,378.0 859.9,377.5 860.9,377.6 861.9,378.3 862.9,378.8 863.9,379.1 864.9,378.5 865.9,377.4 866.9,376.9 868.0,377.4 869.0,378.0 870.0,377.8 871.0,377.1 872.0,377.2 873.0,377.8 874.0,378.4 875.0,378.4 876.0,377.8 877.1,377.4 878.1,377.8 879.1,378.2 880.1,378.0 881.1,377.9 882.1,377.9 883.1,378.2 884.1,378.3 885.2,378.1 886.2,377.8 887.2,377.9 888.2,378.4 889.2,378.4 890.2,377.9 891.2,377.4 892.2,377.5 893.2,378.0 894.3,378.6 895.3,379.0 896.3,379.0 897.3,378.4 898.3,377.9 899.3,377.6 900.3,377.7 901.3,378.1 902.3,378.2 903.4,378.2 904.4,378.7 905.4,379.0 906.4,378.4 907.4,377.9 908.4,378.1 909.4,377.6 910.4,377.3 911.4,377.5 912.5,377.6 913.5,377.7 914.5,377.4 915.5,376.8 916.5,376.7 917.5,376.9 918.5,377.3 919.5,377.4 920.6,377.6 921.6,378.0 922.6,378.0 923.6,377.9 924.6,378.0 925.6,377.7 926.6,377.4 927.6,377.4 928.6,377.5 929.7,377.1 930.7,376.9 931.7,377.7 932.7,378.1 933.7,377.9 934.7,377.1 935.7,376.3 936.7,376.3 937.7,376.8 938.8,377.0 939.8,377.2 940.8,377.0 941.8,376.9 942.8,377.3 943.8,377.3 944.8,377.0 945.8,376.6 946.8,376.6 947.9,377.1 948.9,377.2 949.9,377.6 950.9,377.9 951.9,377.5 952.9,377.2 953.9,377.3 954.9,376.9 955.9,376.1 957.0,375.9 958.0,375.6 959.0,375.5 960.0,375.4 961.0,375.1 962.0,375.5 963.0,376.2 964.0,376.5 965.1,376.3 966.1,376.0 967.1,375.9 968.1,375.8 969.1,376.0 970.1,376.5 971.1,376.5 972.1,376.3 973.1,376.4 974.2,376.4 975.2,376.2 976.2,375.9 977.2,375.6 978.2,375.7 979.2,376.1 980.2,376.3 981.2,375.8 982.2,375.2 983.3,375.2 984.3,375.2 985.3,375.3 986.3,375.4 987.3,375.1 988.3,375.0 989.3,375.1 990.3,375.4 991.3,376.0 992.4,376.2 993.4,375.8 994.4,375.6 995.4,375.3 996.4,374.7 997.4,374.6 998.4,374.8 999.4,374.9 1000.5,374.7 1001.5,374.5 1002.5,374.5 1003.5,374.2 1004.5,374.1 1005.5,374.5 1006.5,374.4 1007.5,374.0 1008.5,373.7 1009.6,373.9 1010.6,374.2 1011.6,373.8 1012.6,373.2 1013.6,373.3 1014.6,373.8 1015.6,373.8 1016.6,373.5 1017.6,373.3 1018.7,373.3 1019.7,372.8 1020.7,372.6 1021.7,372.7 1022.7,372.6 1023.7,373.0 1024.7,373.2 1025.7,373.0 1026.7,373.1 1027.8,373.3 1028.8,373.5 1029.8,373.3 1030.8,373.1 1031.8,373.1 1032.8,372.5 1033.8,372.2 1034.8,372.3 1035.9,372.1 1036.9,372.2 1037.9,372.4 1038.9,372.2 1039.9,372.2 1040.9,372.3 1041.9,372.3 1042.9,372.9 1043.9,373.2 1045.0,372.2 1046.0,371.3 1047.0,371.1 1048.0,371.3 1049.0,371.5 1050.0,372.0 1051.0,372.2 1052.0,371.7 1053.0,371.4 1054.1,371.1 1055.1,370.6 1056.1,370.7 1057.1,371.4 1058.1,371.1 1059.1,370.1 1060.1,370.2 1061.1,371.1 1062.1,370.8 1063.2,370.2 1064.2,370.3 1065.2,370.6 1066.2,370.9 1067.2,371.0 1068.2,370.6 1069.2,370.0 1070.2,369.4 1071.2,369.4 1072.3,369.2 1073.3,368.9 1074.3,368.8 1075.3,369.6 1076.3,370.5 1077.3,370.3 1078.3,369.2 1079.3,368.7 1080.4,368.7 1081.4,369.1 1082.4,369.6 1083.4,369.9 1084.4,369.6 1085.4,369.1 1086.4,369.2 1087.4,368.9 1088.4,368.1 1089.5,367.8 1090.5,367.9 1091.5,367.7 1092.5,367.8 1093.5,367.7 1094.5,367.2 1095.5,367.3 1096.5,367.1 1097.5,366.3 1098.6,365.9 1099.6,366.2 1100.6,366.1 1101.6,365.4 1102.6,365.4 1103.6,365.6 1104.6,365.1 1105.6,364.8 1106.6,364.3 1107.7,363.2 1108.7,362.5 1109.7,362.4 1110.7,362.2 1111.7,361.6 1112.7,361.4 1113.7,360.8 1114.7,360.0 1115.8,359.9 1116.8,359.1 1117.8,357.8 1118.8,357.6 1119.8,357.5 1120.8,356.1 1121.8,354.8 1122.8,354.7 1123.8,354.5 1124.9,353.4 1125.9,352.6 1126.9,351.9 1127.9,351.3 1128.9,350.7 1129.9,349.3 1130.9,347.9 1131.9,347.2 1132.9,346.1 1134.0,344.6 1135.0,343.3 1136.0,342.5 1137.0,341.7 1138.0,340.2 1139.0,338.4 1140.0,337.5 1141.0,336.9 1142.0,335.6 1143.1,334.1 1144.1,332.3 1145.1,330.0 1146.1,327.4 1147.1,325.4 1148.1,323.7 1149.1,321.6 1150.1,319.7 1151.2,317.8 1152.2,315.3 1153.2,311.7 1154.2,307.8 1155.2,304.8 1156.2,301.7 1157.2,298.8 1158.2,296.1 1159.2,292.0 1160.3,288.4 1161.3,284.6 1162.3,280.8 1163.3,276.9 1164.3,272.8 1165.3,268.7 1166.3,264.5 1167.3,260.1 1168.3,255.7 1169.4,251.2 1170.4,246.7 1171.4,242.0 1172.4,237.3 1173.4,232.5 1174.4,227.6 1175.4,222.7 1176.4,217.7 1177.4,212.7 1178.5,207.7 1179.5,202.6 1180.5,197.4 1181.5,192.3 1182.5,187.1 1183.5,181.9 1184.5,176.7 1185.5,171.5 1186.5,166.3 1187.6,161.2 1188.6,156.1 1189.6,151.0 1190.6,146.0 1191.6,141.0 1192.6,136.1 1193.6,131.3 1194.6,126.6 1195.7,121.9 1196.7,117.4 1197.7,112.9 1198.7,108.5 1199.7,104.3 1200.7,100.2 1201.7,96.1 1202.7,92.2 1203.7,88.4 1204.8,84.7 1205.8,81.1 1206.8,77.7 1207.8,74.3 1208.8,71.1 1209.8,68.0 1210.8,65.0 1211.8,62.1 1212.8,59.4 1213.9,56.7 1214.9,54.1 1215.9,51.7 1216.9,49.3 1217.9,47.0 1218.9,44.9 1219.9,42.8 1220.9,40.8 1221.9,38.9 1223.0,37.1 1224.0,35.4 1225.0,33.7 1226.0,32.1 1227.0,30.6 1228.0,29.2 1229.0,27.8 1230.0,26.5 1231.1,25.3 1232.1,24.1 1233.1,22.9 1234.1,21.9 1235.1,20.9 1236.1,19.9 1237.1,19.0 1238.1,18.1 1239.1,17.3 1240.2,16.5 1241.2,15.7 1242.2,15.0 1243.2,14.3 1244.2,13.7 1245.2,13.1 1246.2,12.5 1247.2,12.0 1248.2,11.4 1249.3,10.9 1250.3,10.5 1251.3,10.0" fill="none" stroke="#353535" stroke-width="1.7" stroke-linejoin="round" />
<polyline points="746.6,367.4 746.6,381.3 748.7,373.1" fill="none" stroke="#58b84a" stroke-width="1.5" stroke-linejoin="round" />
<g stroke="#383838" stroke-width="2"><line x1="719.7" y1="401.3" x2="719.7" y2="407.3"/><line x1="823.12" y1="401.3" x2="823.12" y2="407.3"/><line x1="926.54" y1="401.3" x2="926.54" y2="407.3"/><line x1="1029.96" y1="401.3" x2="1029.96" y2="407.3"/><line x1="1133.38" y1="401.3" x2="1133.38" y2="407.3"/><line x1="1236.8" y1="401.3" x2="1236.8" y2="407.3"/><line x1="771.41" y1="401.3" x2="771.41" y2="397.3"/><line x1="771.41" y1="6.6" x2="771.41" y2="10.6"/><line x1="874.83" y1="401.3" x2="874.83" y2="397.3"/><line x1="874.83" y1="6.6" x2="874.83" y2="10.6"/><line x1="978.25" y1="401.3" x2="978.25" y2="397.3"/><line x1="978.25" y1="6.6" x2="978.25" y2="10.6"/><line x1="1081.67" y1="401.3" x2="1081.67" y2="397.3"/><line x1="1081.67" y1="6.6" x2="1081.67" y2="10.6"/><line x1="1185.09" y1="401.3" x2="1185.09" y2="397.3"/><line x1="1185.09" y1="6.6" x2="1185.09" y2="10.6"/><line x1="713.7" y1="9.4" x2="719.7" y2="9.4"/><line x1="713.7" y1="72.65" x2="719.7" y2="72.65"/><line x1="713.7" y1="135.9" x2="719.7" y2="135.9"/><line x1="713.7" y1="199.15" x2="719.7" y2="199.15"/><line x1="713.7" y1="262.4" x2="719.7" y2="262.4"/><line x1="713.7" y1="325.65" x2="719.7" y2="325.65"/><line x1="713.7" y1="388.9" x2="719.7" y2="388.9"/></g>
<rect x="719.7" y="6.6" width="543.2" height="394.7" fill="none" stroke="#383838" stroke-width="2.2"/>
<g font-size="19" font-weight="bold" fill="#1c1c1c"><text x="719.7" y="433.3" text-anchor="middle">0.0</text><text x="823.12" y="433.3" text-anchor="middle">0.2</text><text x="926.54" y="433.3" text-anchor="middle">0.4</text><text x="1029.96" y="433.3" text-anchor="middle">0.6</text><text x="1133.38" y="433.3" text-anchor="middle">0.8</text><text x="1236.8" y="433.3" text-anchor="middle">1.0</text><text x="704.7" y="15.7" text-anchor="end">0</text><text x="704.7" y="78.95" text-anchor="end">-1</text><text x="704.7" y="142.2" text-anchor="end">-2</text><text x="704.7" y="205.45" text-anchor="end">-3</text><text x="704.7" y="268.7" text-anchor="end">-4</text><text x="704.7" y="331.95" text-anchor="end">-5</text><text x="704.7" y="395.2" text-anchor="end">-6</text></g>
<text transform="translate(670.5,400.4) rotate(-90)" font-size="20.3" font-weight="bold" fill="#1c1c1c">Current density (<tspan font-style="italic" dx="1">J</tspan><tspan dx="1.5">)</tspan> / mA cm<tspan font-size="12" dy="-8">-2</tspan><tspan dy="8"> (geometric)</tspan></text>
<text x="991.2" y="471.2" text-anchor="middle" font-size="20.2" font-weight="bold" fill="#1c1c1c">E vs. RHE/ V</text>
<rect x="739.5" y="112.2" width="119.3" height="131.2" fill="#fff" stroke="#505050" stroke-width="1.8"/>
<line x1="750.5" y1="134.4" x2="788.7" y2="134.4" stroke="#353535" stroke-width="2.2"/>
<text x="798.9" y="140.2" font-size="16.5" font-weight="bold" fill="#1c1c1c">Film 1</text>
<line x1="750.5" y1="156.2" x2="788.7" y2="156.2" stroke="#e0453f" stroke-width="2.2"/>
<text x="798.9" y="162" font-size="16.5" font-weight="bold" fill="#1c1c1c">Film 2</text>
<line x1="750.5" y1="178" x2="788.7" y2="178" stroke="#58b84a" stroke-width="2.2"/>
<text x="798.9" y="183.8" font-size="16.5" font-weight="bold" fill="#1c1c1c">Film 3</text>
<line x1="750.5" y1="199.8" x2="788.7" y2="199.8" stroke="#4556b0" stroke-width="2.2"/>
<text x="798.9" y="205.6" font-size="16.5" font-weight="bold" fill="#1c1c1c">Film 4</text>
<line x1="750.5" y1="221.6" x2="788.7" y2="221.6" stroke="#353535" stroke-width="2.2"/>
<text x="798.9" y="227.4" font-size="16.5" font-weight="bold" fill="#1c1c1c">Film 5</text>
<text x="735.5" y="32.5" font-size="23" font-weight="bold" fill="#1c1c1c">b)</text>
<g font-size="23.5" font-weight="bold" fill="#1c1c1c" text-anchor="middle"><text x="839" y="295.1">rotational drying</text><text x="839" y="321.4">uniform film</text></g>
<g stroke="#bebebb" stroke-width="1.7" stroke-dasharray="16.6 6.33"><line x1="122.24" y1="881" x2="122.24" y2="486.9"/><line x1="225.52" y1="881" x2="225.52" y2="486.9"/><line x1="328.8" y1="881" x2="328.8" y2="486.9"/><line x1="432.08" y1="881" x2="432.08" y2="486.9"/><line x1="535.36" y1="881" x2="535.36" y2="486.9"/><line x1="70.6" y1="489.2" x2="613" y2="489.2"/><line x1="70.6" y1="552.48" x2="613" y2="552.48"/><line x1="70.6" y1="615.76" x2="613" y2="615.76"/><line x1="70.6" y1="679.04" x2="613" y2="679.04"/><line x1="70.6" y1="742.32" x2="613" y2="742.32"/><line x1="70.6" y1="805.6" x2="613" y2="805.6"/><line x1="70.6" y1="868.88" x2="613" y2="868.88"/></g>
<path d="M98.5,844.9V858.1M104.3,845.7V858.4M110.2,847.5V859.8M116.1,850.5V862.4M121.9,853.3V864.7M127.8,855.7V866.5M133.7,857.2V867.4M139.5,858.0V867.5M145.4,858.5V867.6M151.2,858.8V867.9M157.1,859.0V868.1M163.0,859.2V868.3M168.8,859.4V868.5M174.7,859.6V868.7M180.5,859.9V869.0M186.4,860.2V869.3M192.3,860.5V869.6M198.1,860.8V869.9M204.0,861.0V870.2M209.8,861.3V870.4M215.7,861.6V870.7M221.6,861.7V870.9M227.4,861.8V870.9M233.3,861.8V870.9M239.2,861.8V870.9M245.0,861.7V870.8M250.9,861.7V870.8M256.7,861.6V870.8M262.6,861.6V870.7M268.5,861.5V870.7M274.3,861.5V870.6M280.2,861.5V870.6M286.0,861.4V870.5M291.9,861.3V870.5M297.8,861.3V870.4M303.6,861.2V870.3M309.5,861.1V870.3M315.3,861.1V870.2M321.2,861.0V870.1M327.1,860.9V870.0M332.9,860.8V869.9M338.8,860.6V869.8M344.7,860.5V869.6M350.5,860.4V869.5M356.4,860.2V869.3M362.2,860.0V869.1M368.1,859.8V868.9M374.0,859.6V868.7M379.8,859.3V868.4M385.7,859.0V868.1M391.5,858.6V867.7M397.4,858.2V867.3M403.3,857.7V866.8M409.1,857.1V866.2M415.0,856.4V865.5M420.8,855.6V864.7M426.7,854.8V863.9M432.6,853.8V862.9M438.4,852.3V861.4M444.3,850.4V859.5M450.2,848.1V857.1M456.0,845.6V854.6M461.9,843.0V851.9M467.7,840.0V848.9M473.6,836.3V845.2M479.5,831.3V840.1M485.3,824.9V833.8M491.2,816.9V825.8M497.0,806.2V815.0M502.9,792.7V801.5M508.8,775.5V784.3M514.6,753.9V762.7M520.5,730.3V739.2M526.3,704.3V713.2M532.2,675.9V684.8M538.1,646.4V655.3M543.9,617.8V626.6M549.8,591.5V600.1M555.7,566.4V574.8M561.5,545.3V553.4M567.4,527.8V535.5M573.2,514.2V521.6M579.1,504.4V511.3M585.0,496.0V502.5M590.8,491.2V497.1M596.7,489.1V494.0" stroke="#141414" stroke-width="1.9" fill="none"/>
<path d="M93.0,844.9h11M93.0,858.1h11M98.8,845.7h11M98.8,858.4h11M104.7,847.5h11M104.7,859.8h11M110.6,850.5h11M110.6,862.4h11M116.4,853.3h11M116.4,864.7h11M122.3,855.7h11M122.3,866.5h11M128.2,857.2h11M128.2,867.4h11M134.0,858.0h11M134.0,867.5h11M139.9,858.5h11M139.9,867.6h11M145.7,858.8h11M145.7,867.9h11M151.6,859.0h11M151.6,868.1h11M157.5,859.2h11M157.5,868.3h11M163.3,859.4h11M163.3,868.5h11M169.2,859.6h11M169.2,868.7h11M175.0,859.9h11M175.0,869.0h11M180.9,860.2h11M180.9,869.3h11M186.8,860.5h11M186.8,869.6h11M192.6,860.8h11M192.6,869.9h11M198.5,861.0h11M198.5,870.2h11M204.3,861.3h11M204.3,870.4h11M210.2,861.6h11M210.2,870.7h11M216.1,861.7h11M216.1,870.9h11M221.9,861.8h11M221.9,870.9h11M227.8,861.8h11M227.8,870.9h11M233.7,861.8h11M233.7,870.9h11M239.5,861.7h11M239.5,870.8h11M245.4,861.7h11M245.4,870.8h11M251.2,861.6h11M251.2,870.8h11M257.1,861.6h11M257.1,870.7h11M263.0,861.5h11M263.0,870.7h11M268.8,861.5h11M268.8,870.6h11M274.7,861.5h11M274.7,870.6h11M280.5,861.4h11M280.5,870.5h11M286.4,861.3h11M286.4,870.5h11M292.3,861.3h11M292.3,870.4h11M298.1,861.2h11M298.1,870.3h11M304.0,861.1h11M304.0,870.3h11M309.8,861.1h11M309.8,870.2h11M315.7,861.0h11M315.7,870.1h11M321.6,860.9h11M321.6,870.0h11M327.4,860.8h11M327.4,869.9h11M333.3,860.6h11M333.3,869.8h11M339.2,860.5h11M339.2,869.6h11M345.0,860.4h11M345.0,869.5h11M350.9,860.2h11M350.9,869.3h11M356.7,860.0h11M356.7,869.1h11M362.6,859.8h11M362.6,868.9h11M368.5,859.6h11M368.5,868.7h11M374.3,859.3h11M374.3,868.4h11M380.2,859.0h11M380.2,868.1h11M386.0,858.6h11M386.0,867.7h11M391.9,858.2h11M391.9,867.3h11M397.8,857.7h11M397.8,866.8h11M403.6,857.1h11M403.6,866.2h11M409.5,856.4h11M409.5,865.5h11M415.3,855.6h11M415.3,864.7h11M421.2,854.8h11M421.2,863.9h11M427.1,853.8h11M427.1,862.9h11M432.9,852.3h11M432.9,861.4h11M438.8,850.4h11M438.8,859.5h11M444.7,848.1h11M444.7,857.1h11M450.5,845.6h11M450.5,854.6h11M456.4,843.0h11M456.4,851.9h11M462.2,840.0h11M462.2,848.9h11M468.1,836.3h11M468.1,845.2h11M474.0,831.3h11M474.0,840.1h11M479.8,824.9h11M479.8,833.8h11M485.7,816.9h11M485.7,825.8h11M491.5,806.2h11M491.5,815.0h11M497.4,792.7h11M497.4,801.5h11M503.3,775.5h11M503.3,784.3h11M509.1,753.9h11M509.1,762.7h11M515.0,730.3h11M515.0,739.2h11M520.8,704.3h11M520.8,713.2h11M526.7,675.9h11M526.7,684.8h11M532.6,646.4h11M532.6,655.3h11M538.4,617.8h11M538.4,626.6h11M544.3,591.5h11M544.3,600.1h11M550.2,566.4h11M550.2,574.8h11M556.0,545.3h11M556.0,553.4h11M561.9,527.8h11M561.9,535.5h11M567.7,514.2h11M567.7,521.6h11M573.6,504.4h11M573.6,511.3h11M579.5,496.0h11M579.5,502.5h11M585.3,491.2h11M585.3,497.1h11M591.2,489.1h11M591.2,494.0h11" stroke="#141414" stroke-width="2.9" fill="none"/>
<polyline points="98.5,851.5 99.7,851.6 101.0,851.7 102.3,851.8 103.5,851.9 104.8,852.1 106.0,852.4 107.3,852.7 108.6,853.0 109.8,853.5 111.1,854.0 112.4,854.6 113.6,855.2 114.9,855.8 116.1,856.5 117.4,857.1 118.7,857.6 119.9,858.2 121.2,858.7 122.4,859.2 123.7,859.7 125.0,860.1 126.2,860.6 127.5,861.0 128.7,861.4 130.0,861.7 131.3,861.9 132.5,862.2 133.8,862.3 135.0,862.4 136.3,862.6 137.6,862.6 138.8,862.7 140.1,862.8 141.3,862.9 142.6,862.9 143.9,863.0 145.1,863.1 146.4,863.1 147.6,863.2 148.9,863.2 150.2,863.3 151.4,863.3 152.7,863.4 154.0,863.4 155.2,863.5 156.5,863.5 157.7,863.6 159.0,863.6 160.3,863.7 161.5,863.7 162.8,863.7 164.0,863.8 165.3,863.8 166.6,863.9 167.8,863.9 169.1,864.0 170.3,864.0 171.6,864.0 172.9,864.1 174.1,864.1 175.4,864.2 176.6,864.3 177.9,864.3 179.2,864.4 180.4,864.4 181.7,864.5 182.9,864.6 184.2,864.6 185.5,864.7 186.7,864.8 188.0,864.8 189.2,864.9 190.5,865.0 191.8,865.0 193.0,865.1 194.3,865.1 195.6,865.2 196.8,865.3 198.1,865.3 199.3,865.4 200.6,865.4 201.9,865.5 203.1,865.6 204.4,865.6 205.6,865.7 206.9,865.7 208.2,865.8 209.4,865.9 210.7,865.9 211.9,866.0 213.2,866.0 214.5,866.1 215.7,866.1 217.0,866.2 218.2,866.2 219.5,866.3 220.8,866.3 222.0,866.3 223.3,866.3 224.5,866.3 225.8,866.3 227.1,866.3 228.3,866.3 229.6,866.3 230.8,866.3 232.1,866.3 233.4,866.3 234.6,866.3 235.9,866.3 237.2,866.3 238.4,866.3 239.7,866.3 240.9,866.3 242.2,866.3 243.5,866.3 244.7,866.3 246.0,866.3 247.2,866.3 248.5,866.3 249.8,866.3 251.0,866.2 252.3,866.2 253.5,866.2 254.8,866.2 256.1,866.2 257.3,866.2 258.6,866.2 259.8,866.2 261.1,866.2 262.4,866.2 263.6,866.1 264.9,866.1 266.1,866.1 267.4,866.1 268.7,866.1 269.9,866.1 271.2,866.1 272.4,866.1 273.7,866.1 275.0,866.1 276.2,866.0 277.5,866.0 278.7,866.0 280.0,866.0 281.3,866.0 282.5,866.0 283.8,866.0 285.1,866.0 286.3,866.0 287.6,865.9 288.8,865.9 290.1,865.9 291.4,865.9 292.6,865.9 293.9,865.9 295.1,865.9 296.4,865.9 297.7,865.8 298.9,865.8 300.2,865.8 301.4,865.8 302.7,865.8 304.0,865.8 305.2,865.7 306.5,865.7 307.7,865.7 309.0,865.7 310.3,865.7 311.5,865.7 312.8,865.6 314.0,865.6 315.3,865.6 316.6,865.6 317.8,865.6 319.1,865.6 320.3,865.5 321.6,865.5 322.9,865.5 324.1,865.5 325.4,865.5 326.7,865.4 327.9,865.4 329.2,865.4 330.4,865.4 331.7,865.3 333.0,865.3 334.2,865.3 335.5,865.3 336.7,865.2 338.0,865.2 339.3,865.2 340.5,865.2 341.8,865.1 343.0,865.1 344.3,865.1 345.6,865.0 346.8,865.0 348.1,865.0 349.3,864.9 350.6,864.9 351.9,864.9 353.1,864.8 354.4,864.8 355.6,864.8 356.9,864.7 358.2,864.7 359.4,864.6 360.7,864.6 361.9,864.6 363.2,864.5 364.5,864.5 365.7,864.4 367.0,864.4 368.3,864.3 369.5,864.3 370.8,864.2 372.0,864.2 373.3,864.1 374.6,864.1 375.8,864.0 377.1,864.0 378.3,863.9 379.6,863.9 380.9,863.8 382.1,863.7 383.4,863.7 384.6,863.6 385.9,863.5 387.2,863.5 388.4,863.4 389.7,863.3 390.9,863.2 392.2,863.1 393.5,863.0 394.7,862.9 396.0,862.8 397.2,862.7 398.5,862.6 399.8,862.5 401.0,862.4 402.3,862.3 403.5,862.2 404.8,862.1 406.1,861.9 407.3,861.8 408.6,861.7 409.9,861.5 411.1,861.4 412.4,861.3 413.6,861.1 414.9,861.0 416.2,860.8 417.4,860.6 418.7,860.5 419.9,860.3 421.2,860.1 422.5,859.9 423.7,859.8 425.0,859.6 426.2,859.4 427.5,859.2 428.8,859.0 430.0,858.8 431.3,858.6 432.5,858.3 433.8,858.1 435.1,857.8 436.3,857.5 437.6,857.1 438.8,856.8 440.1,856.4 441.4,856.0 442.6,855.5 443.9,855.1 445.1,854.6 446.4,854.1 447.7,853.6 448.9,853.1 450.2,852.6 451.4,852.0 452.7,851.5 454.0,851.0 455.2,850.4 456.5,849.9 457.8,849.3 459.0,848.8 460.3,848.2 461.5,847.6 462.8,847.0 464.1,846.4 465.3,845.8 466.6,845.1 467.8,844.4 469.1,843.7 470.4,843.0 471.6,842.1 472.9,841.3 474.1,840.4 475.4,839.4 476.7,838.3 477.9,837.2 479.2,836.0 480.4,834.7 481.7,833.4 483.0,832.1 484.2,830.7 485.5,829.2 486.7,827.6 488.0,826.0 489.3,824.2 490.5,822.4 491.8,820.4 493.0,818.3 494.3,816.0 495.6,813.6 496.8,811.0 498.1,808.3 499.4,805.5 500.6,802.6 501.9,799.6 503.1,796.5 504.4,793.2 505.7,789.7 506.9,785.9 508.2,781.9 509.4,777.6 510.7,773.2 512.0,768.5 513.2,763.7 514.5,758.9 515.7,753.9 517.0,748.9 518.3,743.8 519.5,738.7 520.8,733.5 522.0,728.2 523.3,722.7 524.6,717.0 525.8,711.2 527.1,705.2 528.3,699.2 529.6,693.1 530.9,686.9 532.1,680.7 533.4,674.5 534.6,668.2 535.9,661.8 537.2,655.4 538.4,649.0 539.7,642.7 541.0,636.4 542.2,630.3 543.5,624.3 544.7,618.5 546.0,612.7 547.3,607.0 548.5,601.4 549.8,595.8 551.0,590.3 552.3,584.8 553.6,579.3 554.8,574.0 556.1,568.9 557.3,564.0 558.6,559.3 559.9,554.9 561.1,550.7 562.4,546.6 563.6,542.6 564.9,538.8 566.2,535.1 567.4,531.5 568.7,528.2 569.9,525.1 571.2,522.2 572.5,519.5 573.7,517.0 575.0,514.6 576.2,512.4 577.5,510.3 578.8,508.3 580.0,506.4 581.3,504.5 582.6,502.6 583.8,500.8 585.1,499.2 586.3,497.7 587.6,496.4 588.9,495.4 590.1,494.5 591.4,493.8 592.6,493.2 593.9,492.6 595.2,492.1 596.4,491.6 597.7,491.3 598.9,491.0 600.2,490.8 601.5,490.6" fill="none" stroke="#e8312c" stroke-width="2.3" stroke-linejoin="round" />
<path d="M96.8,814.9V832.6M108.5,820.4V837.3M120.2,827.5V843.0M131.8,835.1V847.8M143.5,842.5V851.8M155.1,844.8V853.6M166.8,845.6V854.1M178.5,847.4V855.9M190.1,850.0V858.4M201.8,852.0V860.3M213.4,852.7V861.0M225.1,852.7V861.0M236.8,852.1V860.4M248.4,851.5V859.7M260.1,850.8V859.1M271.7,850.2V858.5M283.4,849.5V857.9M295.1,848.8V857.3M306.7,848.1V856.8M318.4,847.5V856.2M330.0,846.8V855.7M341.7,845.4V854.7M353.4,843.7V853.7M365.0,842.3V853.5M376.7,839.7V852.7M388.3,836.6V851.8M400.0,832.2V849.9M411.7,827.2V847.3M423.3,821.4V844.3M435.0,814.1V840.3M446.6,804.9V835.5M458.3,790.8V827.7M470.0,772.4V817.9M481.6,748.9V802.3M493.3,719.9V777.3M504.9,685.5V745.0M516.6,647.8V704.3M528.3,612.6V658.9M539.9,581.9V614.9M551.6,555.1V574.8M563.2,531.0V539.9M574.9,511.6V515.2M586.6,498.4V500.5M598.2,491.9V493.3" stroke="#4657b3" stroke-width="1.9" fill="none"/>
<path d="M90.6,814.9h12.5M90.6,832.6h12.5M102.2,820.4h12.5M102.2,837.3h12.5M113.9,827.5h12.5M113.9,843.0h12.5M125.6,835.1h12.5M125.6,847.8h12.5M137.2,842.5h12.5M137.2,851.8h12.5M148.9,844.8h12.5M148.9,853.6h12.5M160.5,845.6h12.5M160.5,854.1h12.5M172.2,847.4h12.5M172.2,855.9h12.5M183.9,850.0h12.5M183.9,858.4h12.5M195.5,852.0h12.5M195.5,860.3h12.5M207.2,852.7h12.5M207.2,861.0h12.5M218.8,852.7h12.5M218.8,861.0h12.5M230.5,852.1h12.5M230.5,860.4h12.5M242.2,851.5h12.5M242.2,859.7h12.5M253.8,850.8h12.5M253.8,859.1h12.5M265.5,850.2h12.5M265.5,858.5h12.5M277.1,849.5h12.5M277.1,857.9h12.5M288.8,848.8h12.5M288.8,857.3h12.5M300.5,848.1h12.5M300.5,856.8h12.5M312.1,847.5h12.5M312.1,856.2h12.5M323.8,846.8h12.5M323.8,855.7h12.5M335.4,845.4h12.5M335.4,854.7h12.5M347.1,843.7h12.5M347.1,853.7h12.5M358.8,842.3h12.5M358.8,853.5h12.5M370.4,839.7h12.5M370.4,852.7h12.5M382.1,836.6h12.5M382.1,851.8h12.5M393.8,832.2h12.5M393.8,849.9h12.5M405.4,827.2h12.5M405.4,847.3h12.5M417.1,821.4h12.5M417.1,844.3h12.5M428.7,814.1h12.5M428.7,840.3h12.5M440.4,804.9h12.5M440.4,835.5h12.5M452.1,790.8h12.5M452.1,827.7h12.5M463.7,772.4h12.5M463.7,817.9h12.5M475.4,748.9h12.5M475.4,802.3h12.5M487.0,719.9h12.5M487.0,777.3h12.5M498.7,685.5h12.5M498.7,745.0h12.5M510.4,647.8h12.5M510.4,704.3h12.5M522.0,612.6h12.5M522.0,658.9h12.5M533.7,581.9h12.5M533.7,614.9h12.5M545.3,555.1h12.5M545.3,574.8h12.5M557.0,531.0h12.5M557.0,539.9h12.5M568.7,511.6h12.5M568.7,515.2h12.5M580.3,498.4h12.5M580.3,500.5h12.5M592.0,491.9h12.5M592.0,493.3h12.5" stroke="#4657b3" stroke-width="2.4" fill="none"/>
<polyline points="96.8,823.8 108.5,828.8 120.2,835.3 131.8,841.4 143.5,847.2 155.1,849.2 166.8,849.8 178.5,851.6 190.1,854.2 201.8,856.2 213.4,856.9 225.1,856.9 236.8,856.2 248.4,855.6 260.1,855.0 271.7,854.4 283.4,853.7 295.1,853.1 306.7,852.5 318.4,851.9 330.0,851.2 341.7,850.0 353.4,848.7 365.0,847.9 376.7,846.2 388.3,844.2 400.0,841.1 411.7,837.2 423.3,832.8 435.0,827.2 446.6,820.2 458.3,809.2 470.0,795.2 481.6,775.6 493.3,748.6 504.9,715.3 516.6,676.0 528.3,635.8 539.9,598.4 551.6,564.9 563.2,535.5 574.9,513.4 586.6,499.5 598.2,492.6" fill="none" stroke="#1a1a1a" stroke-width="1.9" stroke-linejoin="round" />
<g fill="#151515"><circle cx="96.8" cy="823.8" r="5.0"/><circle cx="108.5" cy="828.8" r="5.0"/><circle cx="120.2" cy="835.3" r="5.0"/><circle cx="131.8" cy="841.4" r="5.0"/><circle cx="143.5" cy="847.2" r="5.0"/><circle cx="155.1" cy="849.2" r="5.0"/><circle cx="166.8" cy="849.8" r="5.0"/><circle cx="178.5" cy="851.6" r="5.0"/><circle cx="190.1" cy="854.2" r="5.0"/><circle cx="201.8" cy="856.2" r="5.0"/><circle cx="213.4" cy="856.9" r="5.0"/><circle cx="225.1" cy="856.9" r="5.0"/><circle cx="236.8" cy="856.2" r="5.0"/><circle cx="248.4" cy="855.6" r="5.0"/><circle cx="260.1" cy="855.0" r="5.0"/><circle cx="271.7" cy="854.4" r="5.0"/><circle cx="283.4" cy="853.7" r="5.0"/><circle cx="295.1" cy="853.1" r="5.0"/><circle cx="306.7" cy="852.5" r="5.0"/><circle cx="318.4" cy="851.9" r="5.0"/><circle cx="330.0" cy="851.2" r="5.0"/><circle cx="341.7" cy="850.0" r="5.0"/><circle cx="353.4" cy="848.7" r="5.0"/><circle cx="365.0" cy="847.9" r="5.0"/><circle cx="376.7" cy="846.2" r="5.0"/><circle cx="388.3" cy="844.2" r="5.0"/><circle cx="400.0" cy="841.1" r="5.0"/><circle cx="411.7" cy="837.2" r="5.0"/><circle cx="423.3" cy="832.8" r="5.0"/><circle cx="435.0" cy="827.2" r="5.0"/><circle cx="446.6" cy="820.2" r="5.0"/><circle cx="458.3" cy="809.2" r="5.0"/><circle cx="470.0" cy="795.2" r="5.0"/><circle cx="481.6" cy="775.6" r="5.0"/><circle cx="493.3" cy="748.6" r="5.0"/><circle cx="504.9" cy="715.3" r="5.0"/><circle cx="516.6" cy="676.0" r="5.0"/><circle cx="528.3" cy="635.8" r="5.0"/><circle cx="539.9" cy="598.4" r="5.0"/><circle cx="551.6" cy="564.9" r="5.0"/><circle cx="563.2" cy="535.5" r="5.0"/><circle cx="574.9" cy="513.4" r="5.0"/><circle cx="586.6" cy="499.5" r="5.0"/><circle cx="598.2" cy="492.6" r="5.0"/></g>
<g stroke="#383838" stroke-width="2"><line x1="70.6" y1="881" x2="70.6" y2="887"/><line x1="173.88" y1="881" x2="173.88" y2="887"/><line x1="277.16" y1="881" x2="277.16" y2="887"/><line x1="380.44" y1="881" x2="380.44" y2="887"/><line x1="483.72" y1="881" x2="483.72" y2="887"/><line x1="587" y1="881" x2="587" y2="887"/><line x1="122.24" y1="881" x2="122.24" y2="877"/><line x1="122.24" y1="486.9" x2="122.24" y2="490.9"/><line x1="225.52" y1="881" x2="225.52" y2="877"/><line x1="225.52" y1="486.9" x2="225.52" y2="490.9"/><line x1="328.8" y1="881" x2="328.8" y2="877"/><line x1="328.8" y1="486.9" x2="328.8" y2="490.9"/><line x1="432.08" y1="881" x2="432.08" y2="877"/><line x1="432.08" y1="486.9" x2="432.08" y2="490.9"/><line x1="535.36" y1="881" x2="535.36" y2="877"/><line x1="535.36" y1="486.9" x2="535.36" y2="490.9"/><line x1="64.6" y1="489.2" x2="70.6" y2="489.2"/><line x1="64.6" y1="552.48" x2="70.6" y2="552.48"/><line x1="64.6" y1="615.76" x2="70.6" y2="615.76"/><line x1="64.6" y1="679.04" x2="70.6" y2="679.04"/><line x1="64.6" y1="742.32" x2="70.6" y2="742.32"/><line x1="64.6" y1="805.6" x2="70.6" y2="805.6"/><line x1="64.6" y1="868.88" x2="70.6" y2="868.88"/></g>
<rect x="70.6" y="486.9" width="542.4" height="394.1" fill="none" stroke="#383838" stroke-width="2.2"/>
<g font-size="19" font-weight="bold" fill="#1c1c1c"><text x="70.6" y="913" text-anchor="middle">0.0</text><text x="173.88" y="913" text-anchor="middle">0.2</text><text x="277.16" y="913" text-anchor="middle">0.4</text><text x="380.44" y="913" text-anchor="middle">0.6</text><text x="483.72" y="913" text-anchor="middle">0.8</text><text x="587" y="913" text-anchor="middle">1.0</text><text x="55.6" y="495.5" text-anchor="end">0</text><text x="55.6" y="558.78" text-anchor="end">-1</text><text x="55.6" y="622.06" text-anchor="end">-2</text><text x="55.6" y="685.34" text-anchor="end">-3</text><text x="55.6" y="748.62" text-anchor="end">-4</text><text x="55.6" y="811.9" text-anchor="end">-5</text><text x="55.6" y="875.18" text-anchor="end">-6</text></g>
<text transform="translate(20.8,881.4) rotate(-90)" font-size="20.3" font-weight="bold" fill="#1c1c1c">Current density (<tspan font-style="italic" dx="1">J</tspan><tspan dx="1.5">)</tspan> / mA cm<tspan font-size="12" dy="-8">-2</tspan><tspan dy="8"> (geometric)</tspan></text>
<text x="313.9" y="952.7" text-anchor="middle" font-size="20.2" font-weight="bold" fill="#1c1c1c">E vs. RHE/ V</text>
<rect x="83.5" y="560.6" width="207.8" height="65.3" fill="#fff" stroke="#505050" stroke-width="1.8"/>
<line x1="94.5" y1="582.5" x2="134.6" y2="582.5" stroke="#1a1a1a" stroke-width="1.8"/><circle cx="114.6" cy="582.5" r="4.9" fill="#151515"/>
<line x1="94.5" y1="604.6" x2="134.6" y2="604.6" stroke="#e8312c" stroke-width="2.2"/>
<g font-size="16.9" font-weight="bold" fill="#1c1c1c"><text x="142.5" y="588.1">stationary drying</text><text x="142.5" y="609.7">rotational drying</text></g>
<text x="85.5" y="513.7" font-size="23" font-weight="bold" fill="#1c1c1c">c)</text>
<g font-size="23.6" font-weight="bold" fill="#3d4b9e" text-anchor="middle"><text x="330" y="517.9">NRL (30<tspan font-size="14" font-weight="normal" dy="-12">o</tspan><tspan dy="12">C , 1600rpm, υ = 20mV s</tspan><tspan font-size="13.5" dy="-12">-1</tspan><tspan dy="12">)</tspan></text><text x="329.5" y="544.1">Anodic sweep: 0.05V to 1.03V</text></g>
<g font-size="20.3" font-weight="bold" fill="#1c1c1c" text-anchor="middle"><text x="280.5" y="698.8">Average ORR curves (from Fig. 4a and 4b)</text><text x="277.5" y="721.7">bars: standard deviation</text></g>
<g stroke="#bebebb" stroke-width="1.7" stroke-dasharray="16.6 6.33"><line x1="855.42" y1="881.3" x2="855.42" y2="486.8"/><line x1="991.05" y1="881.3" x2="991.05" y2="486.8"/><line x1="1126.67" y1="881.3" x2="1126.67" y2="486.8"/><line x1="719.8" y1="489.2" x2="1262.7" y2="489.2"/><line x1="719.8" y1="552.48" x2="1262.7" y2="552.48"/><line x1="719.8" y1="615.76" x2="1262.7" y2="615.76"/><line x1="719.8" y1="679.04" x2="1262.7" y2="679.04"/><line x1="719.8" y1="742.32" x2="1262.7" y2="742.32"/><line x1="719.8" y1="805.6" x2="1262.7" y2="805.6"/><line x1="719.8" y1="868.88" x2="1262.7" y2="868.88"/></g>
<path d="M721.7,826.4V835.2M740.1,822.1V831.0M758.5,817.1V826.0M776.8,811.1V820.0M795.2,803.9V812.8M813.6,795.9V804.8M832.0,786.9V795.8M850.3,776.1V785.0M868.7,763.7V772.5M887.1,750.2V759.0M905.5,736.1V745.0M923.8,721.5V730.4M942.2,705.6V714.5M960.6,688.9V697.7M979.0,671.7V680.5M997.4,654.1V663.0M1015.7,636.4V645.3M1034.1,619.5V628.3M1052.5,603.6V612.3M1070.9,588.1V596.7M1089.2,573.0V581.5M1107.6,559.0V567.4M1126.0,546.8V555.0M1144.4,535.9V543.8M1162.8,526.0V533.7M1181.1,517.7V525.2M1199.5,510.9V518.1M1217.9,505.2V512.2M1236.3,500.0V506.7M1254.6,495.4V501.8" stroke="#141414" stroke-width="1.7" fill="none"/>
<path d="M716.2,826.4h11M716.2,835.2h11M734.6,822.1h11M734.6,831.0h11M753.0,817.1h11M753.0,826.0h11M771.3,811.1h11M771.3,820.0h11M789.7,803.9h11M789.7,812.8h11M808.1,795.9h11M808.1,804.8h11M826.5,786.9h11M826.5,795.8h11M844.8,776.1h11M844.8,785.0h11M863.2,763.7h11M863.2,772.5h11M881.6,750.2h11M881.6,759.0h11M900.0,736.1h11M900.0,745.0h11M918.3,721.5h11M918.3,730.4h11M936.7,705.6h11M936.7,714.5h11M955.1,688.9h11M955.1,697.7h11M973.5,671.7h11M973.5,680.5h11M991.9,654.1h11M991.9,663.0h11M1010.2,636.4h11M1010.2,645.3h11M1028.6,619.5h11M1028.6,628.3h11M1047.0,603.6h11M1047.0,612.3h11M1065.4,588.1h11M1065.4,596.7h11M1083.7,573.0h11M1083.7,581.5h11M1102.1,559.0h11M1102.1,567.4h11M1120.5,546.8h11M1120.5,555.0h11M1138.9,535.9h11M1138.9,543.8h11M1157.3,526.0h11M1157.3,533.7h11M1175.6,517.7h11M1175.6,525.2h11M1194.0,510.9h11M1194.0,518.1h11M1212.4,505.2h11M1212.4,512.2h11M1230.8,500.0h11M1230.8,506.7h11M1249.1,495.4h11M1249.1,501.8h11" stroke="#141414" stroke-width="2.6" fill="none"/>
<polyline points="719.8,831.2 721.6,830.8 723.4,830.4 725.2,830.0 727.1,829.6 728.9,829.2 730.7,828.8 732.5,828.4 734.3,827.9 736.1,827.5 737.9,827.1 739.8,826.6 741.6,826.1 743.4,825.7 745.2,825.2 747.0,824.7 748.8,824.2 750.6,823.7 752.5,823.2 754.3,822.7 756.1,822.2 757.9,821.7 759.7,821.2 761.5,820.6 763.3,820.1 765.2,819.5 767.0,818.9 768.8,818.3 770.6,817.7 772.4,817.1 774.2,816.5 776.0,815.8 777.9,815.2 779.7,814.5 781.5,813.8 783.3,813.1 785.1,812.4 786.9,811.7 788.7,811.0 790.6,810.3 792.4,809.5 794.2,808.8 796.0,808.0 797.8,807.2 799.6,806.5 801.4,805.7 803.3,804.9 805.1,804.1 806.9,803.3 808.7,802.5 810.5,801.7 812.3,800.9 814.1,800.1 816.0,799.3 817.8,798.4 819.6,797.6 821.4,796.7 823.2,795.8 825.0,794.9 826.8,794.0 828.7,793.1 830.5,792.1 832.3,791.1 834.1,790.2 835.9,789.1 837.7,788.1 839.5,787.1 841.4,786.0 843.2,785.0 845.0,783.9 846.8,782.8 848.6,781.6 850.4,780.5 852.2,779.3 854.1,778.2 855.9,777.0 857.7,775.8 859.5,774.5 861.3,773.3 863.1,772.0 865.0,770.7 866.8,769.5 868.6,768.2 870.4,766.9 872.2,765.6 874.0,764.3 875.8,763.0 877.7,761.6 879.5,760.3 881.3,758.9 883.1,757.6 884.9,756.2 886.7,754.9 888.5,753.5 890.4,752.1 892.2,750.7 894.0,749.3 895.8,748.0 897.6,746.6 899.4,745.2 901.2,743.8 903.1,742.4 904.9,741.0 906.7,739.6 908.5,738.2 910.3,736.8 912.1,735.4 913.9,734.0 915.8,732.5 917.6,731.1 919.4,729.6 921.2,728.1 923.0,726.6 924.8,725.1 926.6,723.6 928.5,722.1 930.3,720.5 932.1,719.0 933.9,717.4 935.7,715.8 937.5,714.3 939.3,712.6 941.2,711.0 943.0,709.4 944.8,707.8 946.6,706.1 948.4,704.5 950.2,702.8 952.0,701.2 953.9,699.5 955.7,697.9 957.5,696.2 959.3,694.5 961.1,692.8 962.9,691.2 964.7,689.5 966.6,687.8 968.4,686.1 970.2,684.4 972.0,682.7 973.8,681.0 975.6,679.3 977.4,677.6 979.3,675.9 981.1,674.1 982.9,672.4 984.7,670.7 986.5,669.0 988.3,667.2 990.1,665.5 992.0,663.7 993.8,662.0 995.6,660.2 997.4,658.5 999.2,656.7 1001.0,655.0 1002.8,653.2 1004.7,651.5 1006.5,649.7 1008.3,648.0 1010.1,646.2 1011.9,644.5 1013.7,642.8 1015.5,641.0 1017.4,639.3 1019.2,637.6 1021.0,635.9 1022.8,634.2 1024.6,632.5 1026.4,630.9 1028.2,629.2 1030.1,627.6 1031.9,625.9 1033.7,624.3 1035.5,622.7 1037.3,621.1 1039.1,619.5 1040.9,617.9 1042.8,616.3 1044.6,614.7 1046.4,613.1 1048.2,611.6 1050.0,610.0 1051.8,608.5 1053.6,606.9 1055.5,605.4 1057.3,603.8 1059.1,602.3 1060.9,600.8 1062.7,599.2 1064.5,597.7 1066.3,596.2 1068.2,594.7 1070.0,593.2 1071.8,591.7 1073.6,590.1 1075.4,588.6 1077.2,587.1 1079.0,585.6 1080.9,584.1 1082.7,582.6 1084.5,581.1 1086.3,579.6 1088.1,578.1 1089.9,576.7 1091.7,575.2 1093.6,573.8 1095.4,572.3 1097.2,570.9 1099.0,569.5 1100.8,568.2 1102.6,566.8 1104.4,565.5 1106.3,564.2 1108.1,562.9 1109.9,561.6 1111.7,560.3 1113.5,559.1 1115.3,557.8 1117.1,556.6 1119.0,555.4 1120.8,554.2 1122.6,553.0 1124.4,551.9 1126.2,550.7 1128.0,549.6 1129.9,548.5 1131.7,547.4 1133.5,546.3 1135.3,545.2 1137.1,544.1 1138.9,543.0 1140.7,542.0 1142.6,540.9 1144.4,539.8 1146.2,538.8 1148.0,537.8 1149.8,536.7 1151.6,535.7 1153.4,534.7 1155.3,533.8 1157.1,532.8 1158.9,531.8 1160.7,530.9 1162.5,530.0 1164.3,529.1 1166.1,528.2 1168.0,527.3 1169.8,526.5 1171.6,525.6 1173.4,524.8 1175.2,524.0 1177.0,523.2 1178.8,522.4 1180.7,521.6 1182.5,520.9 1184.3,520.2 1186.1,519.4 1187.9,518.7 1189.7,518.0 1191.5,517.3 1193.4,516.7 1195.2,516.0 1197.0,515.4 1198.8,514.7 1200.6,514.1 1202.4,513.5 1204.2,512.9 1206.1,512.3 1207.9,511.7 1209.7,511.2 1211.5,510.6 1213.3,510.1 1215.1,509.5 1216.9,509.0 1218.8,508.4 1220.6,507.9 1222.4,507.4 1224.2,506.8 1226.0,506.3 1227.8,505.8 1229.6,505.3 1231.5,504.7 1233.3,504.2 1235.1,503.7 1236.9,503.2 1238.7,502.7 1240.5,502.2 1242.3,501.6 1244.2,501.2 1246.0,500.7 1247.8,500.2 1249.6,499.8 1251.4,499.3 1253.2,498.9 1255.0,498.5 1256.9,498.1 1258.7,497.7 1260.5,497.3 1262.3,497.0" fill="none" stroke="#e8312c" stroke-width="1.8" stroke-linejoin="round" />
<path d="M724.1,740.9V795.6M742.5,732.7V788.7M760.8,724.4V781.4M779.1,715.1V772.9M797.4,705.3V764.0M815.8,694.7V754.0M834.1,683.9V743.4M852.4,673.1V732.6M870.7,661.1V720.0M889.0,649.8V706.8M907.4,640.2V693.4M925.7,629.4V680.8M944.0,618.2V666.5M962.3,607.9V652.4M980.7,598.5V639.1M999.0,589.4V626.2M1017.3,580.9V613.3M1035.6,572.9V601.5M1054.0,564.7V589.6M1072.3,556.9V577.3M1090.6,548.9V565.8M1108.9,542.5V555.9M1127.2,534.4V545.2M1145.6,528.6V536.2M1163.9,523.4V529.1M1182.2,516.7V521.0M1200.5,511.1V514.6M1218.9,506.6V509.5M1237.2,502.2V504.6M1255.5,499.0V501.2" stroke="#4657b3" stroke-width="2.0" fill="none"/>
<path d="M717.9,740.9h12.5M717.9,795.6h12.5M736.2,732.7h12.5M736.2,788.7h12.5M754.5,724.4h12.5M754.5,781.4h12.5M772.9,715.1h12.5M772.9,772.9h12.5M791.2,705.3h12.5M791.2,764.0h12.5M809.5,694.7h12.5M809.5,754.0h12.5M827.8,683.9h12.5M827.8,743.4h12.5M846.2,673.1h12.5M846.2,732.6h12.5M864.5,661.1h12.5M864.5,720.0h12.5M882.8,649.8h12.5M882.8,706.8h12.5M901.1,640.2h12.5M901.1,693.4h12.5M919.4,629.4h12.5M919.4,680.8h12.5M937.8,618.2h12.5M937.8,666.5h12.5M956.1,607.9h12.5M956.1,652.4h12.5M974.4,598.5h12.5M974.4,639.1h12.5M992.7,589.4h12.5M992.7,626.2h12.5M1011.1,580.9h12.5M1011.1,613.3h12.5M1029.4,572.9h12.5M1029.4,601.5h12.5M1047.7,564.7h12.5M1047.7,589.6h12.5M1066.0,556.9h12.5M1066.0,577.3h12.5M1084.3,548.9h12.5M1084.3,565.8h12.5M1102.7,542.5h12.5M1102.7,555.9h12.5M1121.0,534.4h12.5M1121.0,545.2h12.5M1139.3,528.6h12.5M1139.3,536.2h12.5M1157.6,523.4h12.5M1157.6,529.1h12.5M1176.0,516.7h12.5M1176.0,521.0h12.5M1194.3,511.1h12.5M1194.3,514.6h12.5M1212.6,506.6h12.5M1212.6,509.5h12.5M1230.9,502.2h12.5M1230.9,504.6h12.5M1249.3,499.0h12.5M1249.3,501.2h12.5" stroke="#4657b3" stroke-width="2.4" fill="none"/>
<polyline points="724.1,768.3 742.5,760.7 760.8,752.9 779.1,744.0 797.4,734.6 815.8,724.3 834.1,713.6 852.4,702.8 870.7,690.5 889.0,678.3 907.4,666.8 925.7,655.1 944.0,642.3 962.3,630.2 980.7,618.8 999.0,607.8 1017.3,597.1 1035.6,587.2 1054.0,577.1 1072.3,567.1 1090.6,557.4 1108.9,549.2 1127.2,539.8 1145.6,532.4 1163.9,526.3 1182.2,518.8 1200.5,512.9 1218.9,508.0 1237.2,503.4 1255.5,500.1" fill="none" stroke="#1a1a1a" stroke-width="2.0" stroke-linejoin="round" />
<g fill="#151515"><circle cx="724.1" cy="768.3" r="5.2"/><circle cx="742.5" cy="760.7" r="5.2"/><circle cx="760.8" cy="752.9" r="5.2"/><circle cx="779.1" cy="744.0" r="5.2"/><circle cx="797.4" cy="734.6" r="5.2"/><circle cx="815.8" cy="724.3" r="5.2"/><circle cx="834.1" cy="713.6" r="5.2"/><circle cx="852.4" cy="702.8" r="5.2"/><circle cx="870.7" cy="690.5" r="5.2"/><circle cx="889.0" cy="678.3" r="5.2"/><circle cx="907.4" cy="666.8" r="5.2"/><circle cx="925.7" cy="655.1" r="5.2"/><circle cx="944.0" cy="642.3" r="5.2"/><circle cx="962.3" cy="630.2" r="5.2"/><circle cx="980.7" cy="618.8" r="5.2"/><circle cx="999.0" cy="607.8" r="5.2"/><circle cx="1017.3" cy="597.1" r="5.2"/><circle cx="1035.6" cy="587.2" r="5.2"/><circle cx="1054.0" cy="577.1" r="5.2"/><circle cx="1072.3" cy="567.1" r="5.2"/><circle cx="1090.6" cy="557.4" r="5.2"/><circle cx="1108.9" cy="549.2" r="5.2"/><circle cx="1127.2" cy="539.8" r="5.2"/><circle cx="1145.6" cy="532.4" r="5.2"/><circle cx="1163.9" cy="526.3" r="5.2"/><circle cx="1182.2" cy="518.8" r="5.2"/><circle cx="1200.5" cy="512.9" r="5.2"/><circle cx="1218.9" cy="508.0" r="5.2"/><circle cx="1237.2" cy="503.4" r="5.2"/><circle cx="1255.5" cy="500.1" r="5.2"/></g>
<g stroke="#383838" stroke-width="2"><line x1="719.8" y1="881.3" x2="719.8" y2="887.3"/><line x1="855.42" y1="881.3" x2="855.42" y2="887.3"/><line x1="991.05" y1="881.3" x2="991.05" y2="887.3"/><line x1="1126.67" y1="881.3" x2="1126.67" y2="887.3"/><line x1="1262.3" y1="881.3" x2="1262.3" y2="887.3"/><line x1="787.61" y1="881.3" x2="787.61" y2="877.3"/><line x1="787.61" y1="486.8" x2="787.61" y2="490.8"/><line x1="923.24" y1="881.3" x2="923.24" y2="877.3"/><line x1="923.24" y1="486.8" x2="923.24" y2="490.8"/><line x1="1058.86" y1="881.3" x2="1058.86" y2="877.3"/><line x1="1058.86" y1="486.8" x2="1058.86" y2="490.8"/><line x1="1194.49" y1="881.3" x2="1194.49" y2="877.3"/><line x1="1194.49" y1="486.8" x2="1194.49" y2="490.8"/><line x1="713.8" y1="489.2" x2="719.8" y2="489.2"/><line x1="713.8" y1="552.48" x2="719.8" y2="552.48"/><line x1="713.8" y1="615.76" x2="719.8" y2="615.76"/><line x1="713.8" y1="679.04" x2="719.8" y2="679.04"/><line x1="713.8" y1="742.32" x2="719.8" y2="742.32"/><line x1="713.8" y1="805.6" x2="719.8" y2="805.6"/><line x1="713.8" y1="868.88" x2="719.8" y2="868.88"/></g>
<rect x="719.8" y="486.8" width="542.9" height="394.5" fill="none" stroke="#383838" stroke-width="2.2"/>
<g font-size="19" font-weight="bold" fill="#1c1c1c"><text x="719.8" y="913.3" text-anchor="middle">0.80</text><text x="855.42" y="913.3" text-anchor="middle">0.85</text><text x="991.05" y="913.3" text-anchor="middle">0.90</text><text x="1126.67" y="913.3" text-anchor="middle">0.95</text><text x="1262.3" y="913.3" text-anchor="middle">1.00</text><text x="704.8" y="495.5" text-anchor="end">0</text><text x="704.8" y="558.78" text-anchor="end">-1</text><text x="704.8" y="622.06" text-anchor="end">-2</text><text x="704.8" y="685.34" text-anchor="end">-3</text><text x="704.8" y="748.62" text-anchor="end">-4</text><text x="704.8" y="811.9" text-anchor="end">-5</text><text x="704.8" y="875.18" text-anchor="end">-6</text></g>
<text transform="translate(670.5,880.6) rotate(-90)" font-size="20.3" font-weight="bold" fill="#1c1c1c">Current density (<tspan font-style="italic" dx="1">J</tspan><tspan dx="1.5">)</tspan> / mA cm<tspan font-size="12" dy="-8">-2</tspan><tspan dy="8"> (geometric)</tspan></text>
<text x="991.2" y="951.2" text-anchor="middle" font-size="20.2" font-weight="bold" fill="#1c1c1c">E vs. RHE/ V</text>
<rect x="732.8" y="540.9" width="208.1" height="65" fill="#fff" stroke="#505050" stroke-width="1.8"/>
<line x1="744.4" y1="562.3" x2="783.8" y2="562.3" stroke="#1a1a1a" stroke-width="1.8"/><circle cx="764" cy="562.3" r="4.9" fill="#151515"/>
<line x1="744.4" y1="584.4" x2="783.8" y2="584.4" stroke="#e8312c" stroke-width="2.2"/>
<g font-size="16.9" font-weight="bold" fill="#1c1c1c"><text x="792.5" y="567.5">stationary drying</text><text x="793.1" y="589.6">rotational drying</text></g>
<text x="742" y="513.7" font-size="23" font-weight="bold" fill="#1c1c1c">d)</text>
<g font-size="20.3" font-weight="bold" fill="#1c1c1c" text-anchor="middle"><text x="1032.8" y="834.2">Average ORR curves (from Fig. 4a and 4b)</text><text x="1030" y="857.1">bars: standard deviation</text></g>
</g></svg></body></html>
